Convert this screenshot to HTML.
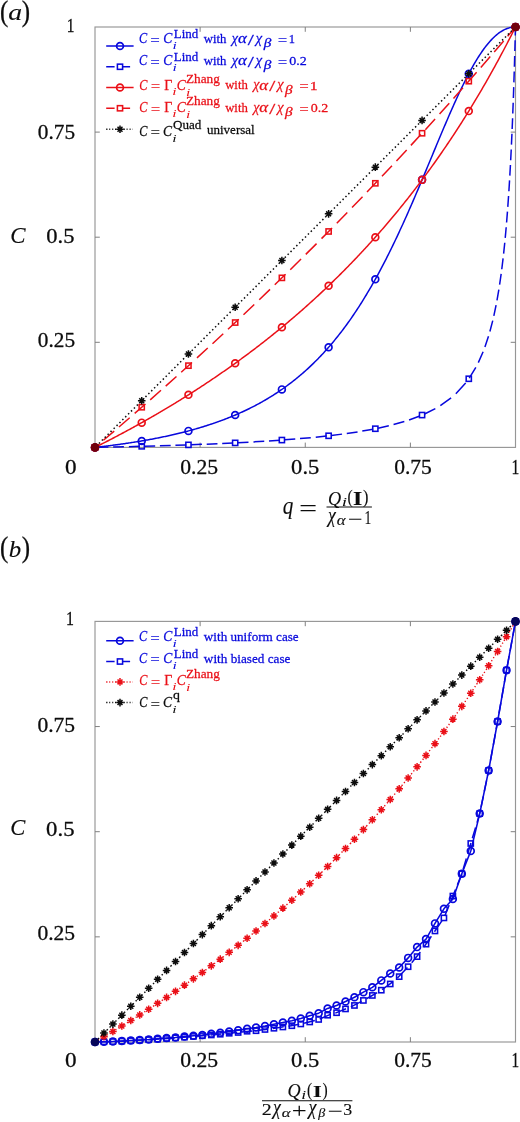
<!DOCTYPE html>
<html><head><meta charset="utf-8"><title>Figure</title>
<style>html,body{margin:0;padding:0;background:#fff}body{width:520px;height:1122px;overflow:hidden;font-family:"Liberation Serif",serif}svg{display:block}svg text{font-family:"Liberation Serif",serif;stroke-linejoin:round}</style>
</head><body>
<svg width="520" height="1122" viewBox="0 0 520 1122"><rect x="95" y="27" width="420.5" height="420.4" fill="none" stroke="#969696" stroke-width="1.15"/>
<path d="M200.12 27v4.8M200.12 447.4v-4.8M95 342.30h4.8M515.5 342.30h-4.8M305.25 27v4.8M305.25 447.4v-4.8M95 237.20h4.8M515.5 237.20h-4.8M410.38 27v4.8M410.38 447.4v-4.8M95 132.10h4.8M515.5 132.10h-4.8" stroke="#808080" stroke-width="1" fill="none"/>
<path d="M95.00 447.40L96.05 447.28L97.10 447.16L98.15 447.04L99.20 446.92L100.26 446.80L101.31 446.68L102.36 446.55L103.41 446.43L104.46 446.30L105.51 446.18L106.56 446.05L107.61 445.92L108.67 445.78L109.72 445.65L110.77 445.52L111.82 445.38L112.87 445.25L113.92 445.11L114.97 444.97L116.03 444.83L117.08 444.69L118.13 444.54L119.18 444.40L120.23 444.25L121.28 444.10L122.33 443.96L123.38 443.81L124.44 443.65L125.49 443.50L126.54 443.35L127.59 443.19L128.64 443.03L129.69 442.87L130.74 442.71L131.79 442.55L132.84 442.38L133.90 442.22L134.95 442.05L136.00 441.88L137.05 441.71L138.10 441.54L139.15 441.36L140.20 441.19L141.25 441.01L142.31 440.83L143.36 440.65L144.41 440.47L145.46 440.28L146.51 440.10L147.56 439.91L148.61 439.72L149.66 439.53L150.72 439.33L151.77 439.14L152.82 438.94L153.87 438.74L154.92 438.54L155.97 438.33L157.02 438.13L158.07 437.92L159.13 437.71L160.18 437.50L161.23 437.28L162.28 437.07L163.33 436.85L164.38 436.63L165.43 436.41L166.49 436.18L167.54 435.95L168.59 435.72L169.64 435.49L170.69 435.26L171.74 435.02L172.79 434.78L173.84 434.54L174.89 434.29L175.95 434.05L177.00 433.80L178.05 433.55L179.10 433.29L180.15 433.04L181.20 432.78L182.25 432.51L183.31 432.25L184.36 431.98L185.41 431.71L186.46 431.44L187.51 431.16L188.56 430.88L189.61 430.60L190.66 430.32L191.72 430.03L192.77 429.74L193.82 429.44L194.87 429.15L195.92 428.85L196.97 428.54L198.02 428.24L199.07 427.93L200.12 427.62L201.18 427.30L202.23 426.98L203.28 426.66L204.33 426.33L205.38 426.00L206.43 425.67L207.48 425.33L208.54 424.99L209.59 424.65L210.64 424.30L211.69 423.95L212.74 423.60L213.79 423.24L214.84 422.88L215.89 422.51L216.94 422.14L218.00 421.77L219.05 421.39L220.10 421.01L221.15 420.62L222.20 420.23L223.25 419.84L224.30 419.44L225.35 419.04L226.41 418.63L227.46 418.22L228.51 417.80L229.56 417.38L230.61 416.96L231.66 416.53L232.71 416.09L233.77 415.65L234.82 415.21L235.87 414.76L236.92 414.31L237.97 413.85L239.02 413.39L240.07 412.92L241.12 412.44L242.17 411.97L243.23 411.48L244.28 410.99L245.33 410.50L246.38 410.00L247.43 409.49L248.48 408.98L249.53 408.46L250.59 407.94L251.64 407.41L252.69 406.88L253.74 406.34L254.79 405.79L255.84 405.24L256.89 404.68L257.94 404.12L259.00 403.55L260.05 402.97L261.10 402.39L262.15 401.80L263.20 401.20L264.25 400.60L265.30 399.99L266.35 399.37L267.40 398.75L268.46 398.12L269.51 397.48L270.56 396.84L271.61 396.19L272.66 395.53L273.71 394.86L274.76 394.19L275.81 393.50L276.87 392.81L277.92 392.12L278.97 391.41L280.02 390.70L281.07 389.98L282.12 389.25L283.17 388.51L284.23 387.77L285.28 387.02L286.33 386.25L287.38 385.48L288.43 384.70L289.48 383.91L290.53 383.12L291.58 382.31L292.63 381.50L293.69 380.67L294.74 379.84L295.79 378.99L296.84 378.14L297.89 377.28L298.94 376.41L299.99 375.52L301.04 374.63L302.10 373.73L303.15 372.82L304.20 371.90L305.25 370.96L306.30 370.02L307.35 369.07L308.40 368.10L309.46 367.13L310.51 366.14L311.56 365.14L312.61 364.13L313.66 363.11L314.71 362.08L315.76 361.04L316.81 359.98L317.87 358.92L318.92 357.84L319.97 356.75L321.02 355.64L322.07 354.53L323.12 353.40L324.17 352.26L325.22 351.11L326.27 349.94L327.33 348.76L328.38 347.57L329.43 346.37L330.48 345.15L331.53 343.92L332.58 342.67L333.63 341.41L334.68 340.14L335.74 338.85L336.79 337.55L337.84 336.24L338.89 334.91L339.94 333.57L340.99 332.21L342.04 330.84L343.10 329.45L344.15 328.05L345.20 326.63L346.25 325.20L347.30 323.75L348.35 322.29L349.40 320.81L350.45 319.32L351.50 317.81L352.56 316.29L353.61 314.75L354.66 313.19L355.71 311.62L356.76 310.03L357.81 308.42L358.86 306.80L359.92 305.17L360.97 303.51L362.02 301.84L363.07 300.16L364.12 298.45L365.17 296.73L366.22 295.00L367.27 293.24L368.32 291.47L369.38 289.69L370.43 287.88L371.48 286.06L372.53 284.22L373.58 282.37L374.63 280.50L375.68 278.61L376.74 276.70L377.79 274.78L378.84 272.84L379.89 270.88L380.94 268.91L381.99 266.92L383.04 264.91L384.09 262.89L385.14 260.84L386.20 258.79L387.25 256.71L388.30 254.62L389.35 252.51L390.40 250.39L391.45 248.25L392.50 246.09L393.56 243.92L394.61 241.73L395.66 239.53L396.71 237.31L397.76 235.08L398.81 232.83L399.86 230.56L400.91 228.29L401.96 225.99L403.02 223.69L404.07 221.37L405.12 219.03L406.17 216.69L407.22 214.33L408.27 211.95L409.32 209.57L410.38 207.17L411.43 204.76L412.48 202.34L413.53 199.91L414.58 197.48L415.63 195.03L416.68 192.57L417.73 190.10L418.79 187.62L419.84 185.14L420.89 182.65L421.94 180.15L422.99 177.65L424.04 175.14L425.09 172.62L426.14 170.10L427.19 167.58L428.25 165.06L429.30 162.53L430.35 160.00L431.40 157.47L432.45 154.94L433.50 152.41L434.55 149.88L435.61 147.35L436.66 144.83L437.71 142.31L438.76 139.79L439.81 137.28L440.86 134.78L441.91 132.28L442.96 129.79L444.01 127.31L445.07 124.84L446.12 122.38L447.17 119.93L448.22 117.49L449.27 115.07L450.32 112.66L451.37 110.26L452.43 107.88L453.48 105.52L454.53 103.18L455.58 100.86L456.63 98.55L457.68 96.27L458.73 94.01L459.78 91.77L460.83 89.56L461.89 87.37L462.94 85.21L463.99 83.07L465.04 80.97L466.09 78.89L467.14 76.84L468.19 74.82L469.25 72.83L470.30 70.88L471.35 68.96L472.40 67.07L473.45 65.22L474.50 63.40L475.55 61.62L476.60 59.88L477.66 58.18L478.71 56.52L479.76 54.89L480.81 53.31L481.86 51.77L482.91 50.27L483.96 48.81L485.01 47.40L486.06 46.03L487.12 44.71L488.17 43.43L489.22 42.20L490.27 41.01L491.32 39.87L492.37 38.77L493.42 37.73L494.47 36.73L495.53 35.78L496.58 34.87L497.63 34.02L498.68 33.21L499.73 32.46L500.78 31.75L501.83 31.09L502.88 30.48L503.94 29.92L504.99 29.41L506.04 28.95L507.09 28.54L508.14 28.18L509.19 27.86L510.24 27.60L511.30 27.38L512.35 27.21L513.40 27.10L514.45 27.02L515.50 27.00" stroke="#0808dc" stroke-width="1.5" fill="none" stroke-linejoin="round" stroke-linecap="butt"/>
<circle cx="95.00" cy="447.40" r="3.4" fill="none" stroke="#0808dc" stroke-width="1.7"/>
<circle cx="141.72" cy="440.93" r="3.4" fill="none" stroke="#0808dc" stroke-width="1.7"/>
<circle cx="188.44" cy="430.91" r="3.4" fill="none" stroke="#0808dc" stroke-width="1.7"/>
<circle cx="235.17" cy="415.06" r="3.4" fill="none" stroke="#0808dc" stroke-width="1.7"/>
<circle cx="281.89" cy="389.41" r="3.4" fill="none" stroke="#0808dc" stroke-width="1.7"/>
<circle cx="328.61" cy="347.30" r="3.4" fill="none" stroke="#0808dc" stroke-width="1.7"/>
<circle cx="375.33" cy="279.24" r="3.4" fill="none" stroke="#0808dc" stroke-width="1.7"/>
<circle cx="422.06" cy="179.87" r="3.4" fill="none" stroke="#0808dc" stroke-width="1.7"/>
<circle cx="468.78" cy="73.71" r="3.4" fill="none" stroke="#0808dc" stroke-width="1.7"/>
<circle cx="515.50" cy="27.00" r="3.4" fill="none" stroke="#0808dc" stroke-width="1.7"/>
<path d="M97.63 447.35L108.40 447.12M113.13 447.01L123.91 446.76M128.90 446.64L139.68 446.36M144.41 446.24L155.18 445.93M159.91 445.79L170.69 445.46M175.42 445.31L186.20 444.94M191.19 444.76L201.96 444.35M206.70 444.16L217.47 443.71M222.20 443.50L232.98 442.99M237.71 442.75L248.48 442.18M253.48 441.90L264.25 441.25M268.98 440.95L279.76 440.21M284.49 439.87L295.26 439.02M299.99 438.62L310.77 437.65M315.76 437.16L326.54 436.02M331.27 435.48L342.04 434.13M346.77 433.49L357.55 431.89M362.28 431.11L373.06 429.16M378.05 428.16L388.82 425.74M393.56 424.56L404.33 421.50M409.06 419.97L419.84 415.99M424.57 413.96L435.34 408.56M440.34 405.59L451.11 397.83M455.84 393.67L465.67 382.92M469.25 378.10L475.85 367.35M478.31 362.60L483.12 351.73M484.92 347.03L488.49 336.32M489.89 331.54L492.74 320.61M493.83 315.92L496.08 305.19M496.99 300.37L498.84 289.60M499.61 284.70L501.16 273.86M501.77 269.28L503.08 258.40M503.62 253.57L504.76 242.72M505.22 237.92L506.19 227.28M506.59 222.48L507.45 211.63M507.80 206.84L508.56 196.03M508.88 191.25L509.55 180.42M509.83 175.63L510.43 165.05M510.67 160.26L511.23 149.43M511.45 144.64L511.94 133.79M512.15 128.99L512.60 118.20M512.78 113.44L513.19 102.68M513.38 97.93L513.73 87.14M513.89 82.38L514.24 71.59M514.40 66.83L514.70 56.06M514.84 51.05L515.14 40.28M515.27 35.52L515.50 27.00" stroke="#0808dc" stroke-width="1.5" fill="none" stroke-linejoin="round" stroke-linecap="butt"/>
<rect x="92.40" y="444.80" width="5.2" height="5.2" fill="none" stroke="#0808dc" stroke-width="1.55"/>
<rect x="139.12" y="443.71" width="5.2" height="5.2" fill="none" stroke="#0808dc" stroke-width="1.55"/>
<rect x="185.84" y="442.26" width="5.2" height="5.2" fill="none" stroke="#0808dc" stroke-width="1.55"/>
<rect x="232.57" y="440.28" width="5.2" height="5.2" fill="none" stroke="#0808dc" stroke-width="1.55"/>
<rect x="279.29" y="437.46" width="5.2" height="5.2" fill="none" stroke="#0808dc" stroke-width="1.55"/>
<rect x="326.01" y="433.19" width="5.2" height="5.2" fill="none" stroke="#0808dc" stroke-width="1.55"/>
<rect x="372.73" y="426.12" width="5.2" height="5.2" fill="none" stroke="#0808dc" stroke-width="1.55"/>
<rect x="419.46" y="412.46" width="5.2" height="5.2" fill="none" stroke="#0808dc" stroke-width="1.55"/>
<rect x="466.18" y="376.16" width="5.2" height="5.2" fill="none" stroke="#0808dc" stroke-width="1.55"/>
<rect x="512.90" y="24.40" width="5.2" height="5.2" fill="none" stroke="#0808dc" stroke-width="1.55"/>
<path d="M95.00 447.40L96.05 446.87L97.10 446.35L98.15 445.82L99.20 445.29L100.26 444.76L101.31 444.22L102.36 443.69L103.41 443.15L104.46 442.62L105.51 442.08L106.56 441.54L107.61 441.00L108.67 440.46L109.72 439.91L110.77 439.37L111.82 438.82L112.87 438.27L113.92 437.72L114.97 437.17L116.03 436.62L117.08 436.07L118.13 435.51L119.18 434.96L120.23 434.40L121.28 433.84L122.33 433.28L123.38 432.72L124.44 432.15L125.49 431.59L126.54 431.02L127.59 430.45L128.64 429.88L129.69 429.31L130.74 428.74L131.79 428.17L132.84 427.59L133.90 427.01L134.95 426.44L136.00 425.86L137.05 425.27L138.10 424.69L139.15 424.11L140.20 423.52L141.25 422.93L142.31 422.34L143.36 421.75L144.41 421.16L145.46 420.57L146.51 419.97L147.56 419.37L148.61 418.77L149.66 418.17L150.72 417.57L151.77 416.97L152.82 416.36L153.87 415.76L154.92 415.15L155.97 414.54L157.02 413.93L158.07 413.31L159.13 412.70L160.18 412.08L161.23 411.46L162.28 410.84L163.33 410.22L164.38 409.60L165.43 408.97L166.49 408.35L167.54 407.72L168.59 407.09L169.64 406.46L170.69 405.82L171.74 405.19L172.79 404.55L173.84 403.91L174.89 403.27L175.95 402.63L177.00 401.98L178.05 401.34L179.10 400.69L180.15 400.04L181.20 399.39L182.25 398.73L183.31 398.08L184.36 397.42L185.41 396.76L186.46 396.10L187.51 395.44L188.56 394.78L189.61 394.11L190.66 393.44L191.72 392.77L192.77 392.10L193.82 391.43L194.87 390.75L195.92 390.07L196.97 389.39L198.02 388.71L199.07 388.03L200.12 387.34L201.18 386.66L202.23 385.97L203.28 385.27L204.33 384.58L205.38 383.89L206.43 383.19L207.48 382.49L208.54 381.79L209.59 381.09L210.64 380.38L211.69 379.67L212.74 378.96L213.79 378.25L214.84 377.54L215.89 376.82L216.94 376.10L218.00 375.38L219.05 374.66L220.10 373.94L221.15 373.21L222.20 372.48L223.25 371.75L224.30 371.02L225.35 370.29L226.41 369.55L227.46 368.81L228.51 368.07L229.56 367.32L230.61 366.58L231.66 365.83L232.71 365.08L233.77 364.33L234.82 363.57L235.87 362.82L236.92 362.06L237.97 361.29L239.02 360.53L240.07 359.76L241.12 359.00L242.17 358.22L243.23 357.45L244.28 356.68L245.33 355.90L246.38 355.12L247.43 354.33L248.48 353.55L249.53 352.76L250.59 351.97L251.64 351.18L252.69 350.38L253.74 349.59L254.79 348.79L255.84 347.99L256.89 347.18L257.94 346.37L259.00 345.56L260.05 344.75L261.10 343.94L262.15 343.12L263.20 342.30L264.25 341.48L265.30 340.65L266.35 339.83L267.40 338.99L268.46 338.16L269.51 337.33L270.56 336.49L271.61 335.65L272.66 334.80L273.71 333.96L274.76 333.11L275.81 332.26L276.87 331.40L277.92 330.55L278.97 329.69L280.02 328.83L281.07 327.96L282.12 327.09L283.17 326.22L284.23 325.35L285.28 324.47L286.33 323.59L287.38 322.71L288.43 321.83L289.48 320.94L290.53 320.05L291.58 319.15L292.63 318.26L293.69 317.36L294.74 316.46L295.79 315.55L296.84 314.64L297.89 313.73L298.94 312.82L299.99 311.90L301.04 310.98L302.10 310.06L303.15 309.13L304.20 308.20L305.25 307.27L306.30 306.33L307.35 305.39L308.40 304.45L309.46 303.50L310.51 302.56L311.56 301.60L312.61 300.65L313.66 299.69L314.71 298.73L315.76 297.77L316.81 296.80L317.87 295.83L318.92 294.85L319.97 293.88L321.02 292.89L322.07 291.91L323.12 290.92L324.17 289.93L325.22 288.94L326.27 287.94L327.33 286.94L328.38 285.93L329.43 284.92L330.48 283.91L331.53 282.90L332.58 281.88L333.63 280.85L334.68 279.83L335.74 278.80L336.79 277.76L337.84 276.73L338.89 275.69L339.94 274.64L340.99 273.60L342.04 272.54L343.10 271.49L344.15 270.43L345.20 269.37L346.25 268.30L347.30 267.23L348.35 266.15L349.40 265.08L350.45 263.99L351.50 262.91L352.56 261.82L353.61 260.72L354.66 259.63L355.71 258.52L356.76 257.42L357.81 256.31L358.86 255.20L359.92 254.08L360.97 252.96L362.02 251.83L363.07 250.70L364.12 249.56L365.17 248.43L366.22 247.28L367.27 246.14L368.32 244.99L369.38 243.83L370.43 242.67L371.48 241.51L372.53 240.34L373.58 239.16L374.63 237.99L375.68 236.81L376.74 235.62L377.79 234.43L378.84 233.23L379.89 232.03L380.94 230.83L381.99 229.62L383.04 228.41L384.09 227.19L385.14 225.97L386.20 224.74L387.25 223.51L388.30 222.27L389.35 221.03L390.40 219.78L391.45 218.53L392.50 217.28L393.56 216.02L394.61 214.75L395.66 213.48L396.71 212.21L397.76 210.92L398.81 209.64L399.86 208.35L400.91 207.05L401.96 205.75L403.02 204.45L404.07 203.14L405.12 201.82L406.17 200.50L407.22 199.17L408.27 197.84L409.32 196.50L410.38 195.16L411.43 193.81L412.48 192.46L413.53 191.10L414.58 189.74L415.63 188.37L416.68 186.99L417.73 185.61L418.79 184.22L419.84 182.83L420.89 181.43L421.94 180.03L422.99 178.62L424.04 177.20L425.09 175.78L426.14 174.36L427.19 172.92L428.25 171.49L429.30 170.04L430.35 168.59L431.40 167.13L432.45 165.67L433.50 164.20L434.55 162.73L435.61 161.25L436.66 159.76L437.71 158.26L438.76 156.76L439.81 155.26L440.86 153.74L441.91 152.23L442.96 150.70L444.01 149.17L445.07 147.63L446.12 146.08L447.17 144.53L448.22 142.97L449.27 141.41L450.32 139.83L451.37 138.26L452.43 136.67L453.48 135.08L454.53 133.48L455.58 131.87L456.63 130.26L457.68 128.64L458.73 127.01L459.78 125.37L460.83 123.73L461.89 122.08L462.94 120.42L463.99 118.76L465.04 117.09L466.09 115.41L467.14 113.72L468.19 112.02L469.25 110.32L470.30 108.61L471.35 106.90L472.40 105.17L473.45 103.44L474.50 101.70L475.55 99.95L476.60 98.19L477.66 96.42L478.71 94.65L479.76 92.87L480.81 91.08L481.86 89.28L482.91 87.48L483.96 85.66L485.01 83.84L486.06 82.01L487.12 80.17L488.17 78.32L489.22 76.46L490.27 74.59L491.32 72.72L492.37 70.83L493.42 68.94L494.47 67.04L495.53 65.13L496.58 63.21L497.63 61.28L498.68 59.34L499.73 57.39L500.78 55.43L501.83 53.47L502.88 51.49L503.94 49.50L504.99 47.51L506.04 45.50L507.09 43.49L508.14 41.46L509.19 39.43L510.24 37.38L511.30 35.32L512.35 33.26L513.40 31.18L514.45 29.10L515.50 27.00" stroke="#ea1018" stroke-width="1.5" fill="none" stroke-linejoin="round" stroke-linecap="butt"/>
<circle cx="95.00" cy="447.40" r="3.4" fill="none" stroke="#ea1018" stroke-width="1.7"/>
<circle cx="141.72" cy="422.67" r="3.4" fill="none" stroke="#ea1018" stroke-width="1.7"/>
<circle cx="188.44" cy="394.85" r="3.4" fill="none" stroke="#ea1018" stroke-width="1.7"/>
<circle cx="235.17" cy="363.32" r="3.4" fill="none" stroke="#ea1018" stroke-width="1.7"/>
<circle cx="281.89" cy="327.29" r="3.4" fill="none" stroke="#ea1018" stroke-width="1.7"/>
<circle cx="328.61" cy="285.71" r="3.4" fill="none" stroke="#ea1018" stroke-width="1.7"/>
<circle cx="375.33" cy="237.20" r="3.4" fill="none" stroke="#ea1018" stroke-width="1.7"/>
<circle cx="422.06" cy="179.87" r="3.4" fill="none" stroke="#ea1018" stroke-width="1.7"/>
<circle cx="468.78" cy="111.08" r="3.4" fill="none" stroke="#ea1018" stroke-width="1.7"/>
<circle cx="515.50" cy="27.00" r="3.4" fill="none" stroke="#ea1018" stroke-width="1.7"/>
<path d="M95.00 447.40L98.68 444.29M103.41 440.27L114.19 431.08M118.92 427.02L129.69 417.72M134.68 413.38L145.46 403.97M150.19 399.82L160.97 390.29M165.70 386.09L176.47 376.45M181.20 372.20L191.98 362.45M196.97 357.90L207.75 348.04M212.48 343.68L223.25 333.69M227.98 329.28L238.76 319.18M243.49 314.71L254.26 304.48M259.26 299.71L270.03 289.35M274.76 284.78L285.54 274.29M290.27 269.66L301.04 259.05M305.78 254.36L316.55 243.61M321.54 238.60L332.06 227.98M336.79 223.17L347.30 212.42M352.03 207.56L362.54 196.67M367.01 192.02L377.26 181.28M381.99 176.29L391.98 165.69M396.45 160.92L406.70 149.92M410.90 145.37L420.89 134.52M425.36 129.64L435.08 118.94M439.55 114.00L449.27 103.17M453.48 98.46L462.94 87.81M467.14 83.04L476.60 72.26M480.81 67.44L490.27 56.53M494.21 51.96L503.67 40.92M507.62 36.30L515.50 27.00" stroke="#ea1018" stroke-width="1.5" fill="none" stroke-linejoin="round" stroke-linecap="butt"/>
<rect x="92.40" y="444.80" width="5.2" height="5.2" fill="none" stroke="#ea1018" stroke-width="1.55"/>
<rect x="139.12" y="404.64" width="5.2" height="5.2" fill="none" stroke="#ea1018" stroke-width="1.55"/>
<rect x="185.84" y="363.06" width="5.2" height="5.2" fill="none" stroke="#ea1018" stroke-width="1.55"/>
<rect x="232.57" y="319.95" width="5.2" height="5.2" fill="none" stroke="#ea1018" stroke-width="1.55"/>
<rect x="279.29" y="275.26" width="5.2" height="5.2" fill="none" stroke="#ea1018" stroke-width="1.55"/>
<rect x="326.01" y="228.87" width="5.2" height="5.2" fill="none" stroke="#ea1018" stroke-width="1.55"/>
<rect x="372.73" y="180.70" width="5.2" height="5.2" fill="none" stroke="#ea1018" stroke-width="1.55"/>
<rect x="419.46" y="130.64" width="5.2" height="5.2" fill="none" stroke="#ea1018" stroke-width="1.55"/>
<rect x="466.18" y="78.58" width="5.2" height="5.2" fill="none" stroke="#ea1018" stroke-width="1.55"/>
<rect x="512.90" y="24.40" width="5.2" height="5.2" fill="none" stroke="#ea1018" stroke-width="1.55"/>
<path d="M96.05 446.35L97.10 445.30M98.94 443.46L99.99 442.41M101.83 440.57L102.88 439.52M104.72 437.68L105.78 436.63M107.61 434.79L108.67 433.74M110.51 431.90L111.56 430.85M113.66 428.74L114.71 427.69M116.55 425.85L117.60 424.80M119.44 422.96L120.49 421.91M122.33 420.07L123.38 419.02M125.22 417.18L126.27 416.13M128.11 414.29L129.17 413.24M131.01 411.40L132.06 410.35M133.90 408.51L134.95 407.46M136.79 405.62L137.84 404.57M139.68 402.73L140.73 401.68M142.57 399.84L143.62 398.79M145.46 396.95L146.51 395.90M148.35 394.06L149.40 393.01M151.24 391.17L152.29 390.12M154.13 388.28L155.18 387.23M157.02 385.39L158.07 384.34M159.91 382.50L160.97 381.45M162.81 379.61L163.86 378.56M165.70 376.72L166.75 375.67M168.59 373.83L169.64 372.78M171.48 370.94L172.53 369.89M174.37 368.05L175.42 367.00M177.26 365.16L178.31 364.11M180.15 362.27L181.20 361.22M183.04 359.38L184.09 358.33M185.93 356.49L186.98 355.44M188.82 353.60L189.88 352.55M191.72 350.71L192.77 349.66M194.61 347.82L195.66 346.77M197.76 344.66L198.81 343.61M200.65 341.77L201.70 340.72M203.54 338.88L204.59 337.83M206.43 335.99L207.48 334.94M209.32 333.10L210.37 332.05M212.21 330.21L213.27 329.16M215.11 327.32L216.16 326.27M218.00 324.43L219.05 323.38M220.89 321.54L221.94 320.49M223.78 318.65L224.83 317.60M226.67 315.76L227.72 314.71M229.56 312.87L230.61 311.82M232.45 309.98L233.50 308.93M235.34 307.09L236.39 306.04M238.23 304.20L239.28 303.15M241.12 301.31L242.17 300.26M244.01 298.42L245.07 297.37M246.91 295.53L247.96 294.48M249.80 292.64L250.85 291.59M252.69 289.75L253.74 288.70M255.58 286.86L256.63 285.81M258.47 283.97L259.52 282.92M261.36 281.08L262.41 280.03M264.25 278.19L265.30 277.14M267.14 275.30L268.19 274.25M270.03 272.41L271.08 271.36M272.92 269.52L273.98 268.47M275.81 266.63L276.87 265.58M278.71 263.74L279.76 262.69M281.86 260.58L282.91 259.53M284.75 257.69L285.80 256.64M287.64 254.80L288.69 253.75M290.53 251.91L291.58 250.86M293.42 249.02L294.47 247.97M296.31 246.13L297.37 245.08M299.21 243.24L300.26 242.19M302.10 240.35L303.15 239.30M304.99 237.46L306.04 236.41M307.88 234.57L308.93 233.52M310.77 231.68L311.82 230.63M313.66 228.79L314.71 227.74M316.55 225.90L317.60 224.85M319.44 223.01L320.49 221.96M322.33 220.12L323.38 219.07M325.22 217.23L326.27 216.18M328.11 214.34L329.17 213.29M331.01 211.45L332.06 210.40M333.90 208.56L334.95 207.51M336.79 205.67L337.84 204.62M339.68 202.78L340.73 201.73M342.57 199.89L343.62 198.84M345.46 197.00L346.51 195.95M348.35 194.11L349.40 193.06M351.24 191.22L352.29 190.17M354.13 188.33L355.18 187.28M357.02 185.44L358.08 184.39M359.92 182.55L360.97 181.50M362.81 179.66L363.86 178.61M365.96 176.50L367.01 175.45M368.85 173.61L369.90 172.56M371.74 170.72L372.79 169.67M374.63 167.83L375.68 166.78M377.52 164.94L378.57 163.89M380.41 162.05L381.47 161.00M383.31 159.16L384.36 158.11M386.20 156.27L387.25 155.22M389.09 153.38L390.14 152.33M391.98 150.49L393.03 149.44M394.87 147.60L395.92 146.55M397.76 144.71L398.81 143.66M400.65 141.82L401.70 140.77M403.54 138.93L404.59 137.88M406.43 136.04L407.48 134.99M409.32 133.15L410.38 132.10M412.21 130.26L413.27 129.21M415.11 127.37L416.16 126.32M418.00 124.48L419.05 123.43M420.89 121.59L421.94 120.54M423.78 118.70L424.83 117.65M426.67 115.81L427.72 114.76M429.56 112.92L430.61 111.87M432.45 110.03L433.50 108.98M435.34 107.14L436.39 106.09M438.23 104.25L439.28 103.20M441.12 101.36L442.18 100.31M444.01 98.47L445.07 97.42M446.91 95.58L447.96 94.53M450.06 92.42L451.11 91.37M452.95 89.53L454.00 88.48M455.84 86.64L456.89 85.59M458.73 83.75L459.78 82.70M461.62 80.86L462.67 79.81M464.51 77.97L465.57 76.92M467.41 75.08L468.46 74.03M470.30 72.19L471.35 71.14M473.19 69.30L474.24 68.25M476.08 66.41L477.13 65.36M478.97 63.52L480.02 62.47M481.86 60.63L482.91 59.58M484.75 57.74L485.80 56.69M487.64 54.85L488.69 53.80M490.53 51.96L491.58 50.91M493.42 49.07L494.47 48.02M496.31 46.18L497.37 45.13M499.21 43.29L500.26 42.24M502.10 40.40L503.15 39.35M504.99 37.51L506.04 36.46M507.88 34.62L508.93 33.57M510.77 31.73L511.82 30.68M513.66 28.84L514.71 27.79" stroke="#0c0c0c" stroke-width="1.5" fill="none" stroke-linejoin="round" stroke-linecap="butt"/>
<path d="M91.20 447.40L98.80 447.40M92.53 444.93L97.47 449.87M95.00 443.60L95.00 451.20M97.47 444.93L92.53 449.87" stroke="#0c0c0c" stroke-width="1.5" fill="none"/>
<path d="M137.92 400.69L145.52 400.69M139.25 398.22L144.19 403.16M141.72 396.89L141.72 404.49M144.19 398.22L139.25 403.16" stroke="#0c0c0c" stroke-width="1.5" fill="none"/>
<path d="M184.64 353.98L192.24 353.98M185.97 351.51L190.92 356.45M188.44 350.18L188.44 357.78M190.92 351.51L185.97 356.45" stroke="#0c0c0c" stroke-width="1.5" fill="none"/>
<path d="M231.37 307.27L238.97 307.27M232.69 304.79L237.64 309.74M235.17 303.47L235.17 311.07M237.64 304.79L232.69 309.74" stroke="#0c0c0c" stroke-width="1.5" fill="none"/>
<path d="M278.09 260.56L285.69 260.56M279.42 258.08L284.36 263.03M281.89 256.76L281.89 264.36M284.36 258.08L279.42 263.03" stroke="#0c0c0c" stroke-width="1.5" fill="none"/>
<path d="M324.81 213.84L332.41 213.84M326.14 211.37L331.08 216.32M328.61 210.04L328.61 217.64M331.08 211.37L326.14 216.32" stroke="#0c0c0c" stroke-width="1.5" fill="none"/>
<path d="M371.53 167.13L379.13 167.13M372.86 164.66L377.81 169.61M375.33 163.33L375.33 170.93M377.81 164.66L372.86 169.61" stroke="#0c0c0c" stroke-width="1.5" fill="none"/>
<path d="M418.26 120.42L425.86 120.42M419.58 117.95L424.53 122.89M422.06 116.62L422.06 124.22M424.53 117.95L419.58 122.89" stroke="#0c0c0c" stroke-width="1.5" fill="none"/>
<path d="M464.98 73.71L472.58 73.71M466.31 71.24L471.25 76.18M468.78 69.91L468.78 77.51M471.25 71.24L466.31 76.18" stroke="#0c0c0c" stroke-width="1.5" fill="none"/>
<path d="M511.70 27.00L519.30 27.00M513.03 24.53L517.97 29.47M515.50 23.20L515.50 30.80M517.97 24.53L513.03 29.47" stroke="#0c0c0c" stroke-width="1.5" fill="none"/>
<circle cx="95.00" cy="447.40" r="4.3" fill="#70000c"/>
<circle cx="515.50" cy="27.00" r="4.3" fill="#70000c"/>
<text x="66.65" y="31.80" style="font-size:19.54px;fill:#0c0c0c;stroke:#0c0c0c;stroke-width:0.3px;" textLength="7.67" lengthAdjust="spacingAndGlyphs">1</text>
<text x="37.89" y="139.31" style="font-size:20.76px;fill:#0c0c0c;stroke:#0c0c0c;stroke-width:0.3px;" textLength="37.24" lengthAdjust="spacingAndGlyphs">0.75</text>
<text x="46.34" y="242.71" style="font-size:20.76px;fill:#0c0c0c;stroke:#0c0c0c;stroke-width:0.3px;" textLength="28.14" lengthAdjust="spacingAndGlyphs">0.5</text>
<text x="37.89" y="346.50" style="font-size:21.05px;fill:#0c0c0c;stroke:#0c0c0c;stroke-width:0.3px;" textLength="37.24" lengthAdjust="spacingAndGlyphs">0.25</text>
<text x="64.92" y="473.80" style="font-size:20.45px;fill:#0c0c0c;stroke:#0c0c0c;stroke-width:0.3px;" textLength="11.56" lengthAdjust="spacingAndGlyphs">0</text>
<text x="180.18" y="473.71" style="font-size:20.32px;fill:#0c0c0c;stroke:#0c0c0c;stroke-width:0.3px;" textLength="37.87" lengthAdjust="spacingAndGlyphs">0.25</text>
<text x="291.14" y="473.71" style="font-size:20.32px;fill:#0c0c0c;stroke:#0c0c0c;stroke-width:0.3px;" textLength="28.14" lengthAdjust="spacingAndGlyphs">0.5</text>
<text x="394.18" y="473.71" style="font-size:20.32px;fill:#0c0c0c;stroke:#0c0c0c;stroke-width:0.3px;" textLength="37.66" lengthAdjust="spacingAndGlyphs">0.75</text>
<text x="511.53" y="473.90" style="font-size:20.75px;fill:#0c0c0c;stroke:#0c0c0c;stroke-width:0.3px;" textLength="7.81" lengthAdjust="spacingAndGlyphs">1</text>
<text x="10.13" y="242.78" style="font-size:23.38px;fill:#0c0c0c;stroke:#0c0c0c;stroke-width:0.15px;font-style:italic;" textLength="15.26" lengthAdjust="spacingAndGlyphs">C</text>
<text x="282.70" y="514.43" style="font-size:24.27px;fill:#0c0c0c;stroke:#0c0c0c;stroke-width:0.12px;font-style:italic;" textLength="10.60" lengthAdjust="spacingAndGlyphs">q</text>
<text x="298.99" y="516.60" style="font-size:26.00px;fill:#0c0c0c;stroke:#0c0c0c;stroke-width:0px;" textLength="18.18" lengthAdjust="spacingAndGlyphs">=</text>
<path d="M326.5 506.9H371.9" stroke="#0c0c0c" stroke-width="1.05"/>
<text x="328.00" y="504.60" style="font-size:18.00px;fill:#0c0c0c;stroke:#0c0c0c;stroke-width:0.12px;font-style:italic;" textLength="13.14" lengthAdjust="spacingAndGlyphs">Q</text>
<text x="341.83" y="505.80" style="font-size:11.78px;fill:#0c0c0c;stroke:#0c0c0c;stroke-width:0px;font-style:italic;" textLength="5.36" lengthAdjust="spacingAndGlyphs">i</text>
<text x="347.42" y="503.35" style="font-size:18.09px;fill:#0c0c0c;stroke:#0c0c0c;stroke-width:0.12px;" textLength="5.19" lengthAdjust="spacingAndGlyphs">(</text>
<text x="353.09" y="504.60" style="font-size:17.87px;fill:#0c0c0c;stroke:#0c0c0c;stroke-width:0.12px;font-weight:bold;" textLength="9.31" lengthAdjust="spacingAndGlyphs">I</text>
<text x="363.07" y="503.35" style="font-size:18.09px;fill:#0c0c0c;stroke:#0c0c0c;stroke-width:0.12px;" textLength="5.45" lengthAdjust="spacingAndGlyphs">)</text>
<text x="328.02" y="521.99" style="font-size:20.24px;fill:#0c0c0c;stroke:#0c0c0c;stroke-width:0.12px;font-style:italic;" textLength="7.81" lengthAdjust="spacingAndGlyphs">χ</text>
<text x="336.70" y="525.06" style="font-size:13.69px;fill:#0c0c0c;stroke:#0c0c0c;stroke-width:0.12px;font-style:italic;" textLength="8.82" lengthAdjust="spacingAndGlyphs">α</text>
<text x="347.88" y="526.00" style="font-size:21.00px;fill:#0c0c0c;stroke:#0c0c0c;stroke-width:0px;" textLength="14.91" lengthAdjust="spacingAndGlyphs">−</text>
<text x="364.60" y="524.20" style="font-size:19.39px;fill:#0c0c0c;stroke:#0c0c0c;stroke-width:0.12px;" textLength="6.82" lengthAdjust="spacingAndGlyphs">1</text>
<path d="M106.20 46.00L133.60 46.00" stroke="#0808dc" stroke-width="1.5" fill="none" stroke-linejoin="round" stroke-linecap="butt"/>
<circle cx="120.00" cy="46.00" r="3.4" fill="none" stroke="#0808dc" stroke-width="1.7"/>
<text x="138.92" y="43.00" style="font-size:14.00px;fill:#0808dc;stroke:#0808dc;stroke-width:0.26px;font-style:italic;" textLength="8.17" lengthAdjust="spacingAndGlyphs">C</text>
<text x="150.15" y="44.50" style="font-size:14.00px;fill:#0808dc;stroke:#0808dc;stroke-width:0.1px;" textLength="9.57" lengthAdjust="spacingAndGlyphs">=</text>
<text x="163.25" y="43.00" style="font-size:14.00px;fill:#0808dc;stroke:#0808dc;stroke-width:0.26px;font-style:italic;" textLength="9.03" lengthAdjust="spacingAndGlyphs">C</text>
<text x="172.53" y="49.00" style="font-size:10.50px;fill:#0808dc;stroke:#0808dc;stroke-width:0px;font-style:italic;" textLength="4.34" lengthAdjust="spacingAndGlyphs">i</text>
<text x="173.83" y="38.00" style="font-size:13.00px;fill:#0808dc;stroke:#0808dc;stroke-width:0.26px;" textLength="24.53" lengthAdjust="spacingAndGlyphs">Lind</text>
<text x="203.79" y="42.60" style="font-size:13.00px;fill:#0808dc;stroke:#0808dc;stroke-width:0.26px;" textLength="22.58" lengthAdjust="spacingAndGlyphs">with</text>
<text x="231.73" y="42.70" style="font-size:15.50px;fill:#0808dc;stroke:#0808dc;stroke-width:0.26px;font-style:italic;" textLength="6.19" lengthAdjust="spacingAndGlyphs">χ</text>
<text x="237.90" y="43.00" style="font-size:14.50px;fill:#0808dc;stroke:#0808dc;stroke-width:0.26px;font-style:italic;" textLength="8.82" lengthAdjust="spacingAndGlyphs">α</text>
<text x="247.80" y="44.60" style="font-size:14.00px;fill:#0808dc;stroke:#0808dc;stroke-width:0.26px;" textLength="6.00" lengthAdjust="spacingAndGlyphs">/</text>
<text x="255.76" y="42.70" style="font-size:15.50px;fill:#0808dc;stroke:#0808dc;stroke-width:0.26px;font-style:italic;" textLength="6.35" lengthAdjust="spacingAndGlyphs">χ</text>
<text x="263.65" y="47.00" style="font-size:11.80px;fill:#0808dc;stroke:#0808dc;stroke-width:0.26px;font-style:italic;" textLength="7.58" lengthAdjust="spacingAndGlyphs">β</text>
<text x="277.75" y="44.50" style="font-size:14.00px;fill:#0808dc;stroke:#0808dc;stroke-width:0.1px;" textLength="9.57" lengthAdjust="spacingAndGlyphs">=</text>
<text x="288.70" y="43.00" style="font-size:12.60px;fill:#0808dc;stroke:#0808dc;stroke-width:0.26px;" textLength="6.25" lengthAdjust="spacingAndGlyphs">1</text>
<path d="M106.20 66.75L114.60 66.75" stroke="#0808dc" stroke-width="1.5" fill="none" stroke-linejoin="round" stroke-linecap="butt"/>
<path d="M122.60 66.75L130.10 66.75" stroke="#0808dc" stroke-width="1.5" fill="none" stroke-linejoin="round" stroke-linecap="butt"/>
<rect x="117.40" y="64.15" width="5.2" height="5.2" fill="none" stroke="#0808dc" stroke-width="1.55"/>
<text x="138.92" y="65.30" style="font-size:14.00px;fill:#0808dc;stroke:#0808dc;stroke-width:0.26px;font-style:italic;" textLength="8.17" lengthAdjust="spacingAndGlyphs">C</text>
<text x="150.15" y="66.80" style="font-size:14.00px;fill:#0808dc;stroke:#0808dc;stroke-width:0.1px;" textLength="9.57" lengthAdjust="spacingAndGlyphs">=</text>
<text x="163.25" y="65.30" style="font-size:14.00px;fill:#0808dc;stroke:#0808dc;stroke-width:0.26px;font-style:italic;" textLength="9.03" lengthAdjust="spacingAndGlyphs">C</text>
<text x="172.53" y="71.30" style="font-size:10.50px;fill:#0808dc;stroke:#0808dc;stroke-width:0px;font-style:italic;" textLength="4.34" lengthAdjust="spacingAndGlyphs">i</text>
<text x="173.83" y="61.00" style="font-size:13.00px;fill:#0808dc;stroke:#0808dc;stroke-width:0.26px;" textLength="24.53" lengthAdjust="spacingAndGlyphs">Lind</text>
<text x="203.79" y="64.90" style="font-size:13.00px;fill:#0808dc;stroke:#0808dc;stroke-width:0.26px;" textLength="22.58" lengthAdjust="spacingAndGlyphs">with</text>
<text x="231.73" y="65.00" style="font-size:15.50px;fill:#0808dc;stroke:#0808dc;stroke-width:0.26px;font-style:italic;" textLength="6.19" lengthAdjust="spacingAndGlyphs">χ</text>
<text x="237.90" y="65.30" style="font-size:14.50px;fill:#0808dc;stroke:#0808dc;stroke-width:0.26px;font-style:italic;" textLength="8.82" lengthAdjust="spacingAndGlyphs">α</text>
<text x="247.80" y="66.90" style="font-size:14.00px;fill:#0808dc;stroke:#0808dc;stroke-width:0.26px;" textLength="6.00" lengthAdjust="spacingAndGlyphs">/</text>
<text x="255.76" y="65.00" style="font-size:15.50px;fill:#0808dc;stroke:#0808dc;stroke-width:0.26px;font-style:italic;" textLength="6.35" lengthAdjust="spacingAndGlyphs">χ</text>
<text x="263.65" y="69.30" style="font-size:11.80px;fill:#0808dc;stroke:#0808dc;stroke-width:0.26px;font-style:italic;" textLength="7.58" lengthAdjust="spacingAndGlyphs">β</text>
<text x="277.75" y="66.80" style="font-size:14.00px;fill:#0808dc;stroke:#0808dc;stroke-width:0.1px;" textLength="9.57" lengthAdjust="spacingAndGlyphs">=</text>
<text x="289.27" y="65.30" style="font-size:12.60px;fill:#0808dc;stroke:#0808dc;stroke-width:0.26px;" textLength="17.51" lengthAdjust="spacingAndGlyphs">0.2</text>
<path d="M106.20 87.50L133.60 87.50" stroke="#ea1018" stroke-width="1.5" fill="none" stroke-linejoin="round" stroke-linecap="butt"/>
<circle cx="120.00" cy="87.50" r="3.4" fill="none" stroke="#ea1018" stroke-width="1.7"/>
<text x="139.32" y="89.50" style="font-size:14.00px;fill:#ea1018;stroke:#ea1018;stroke-width:0.26px;font-style:italic;" textLength="8.17" lengthAdjust="spacingAndGlyphs">C</text>
<text x="150.65" y="91.00" style="font-size:14.00px;fill:#ea1018;stroke:#ea1018;stroke-width:0.1px;" textLength="9.57" lengthAdjust="spacingAndGlyphs">=</text>
<text x="164.20" y="89.50" style="font-size:14.00px;fill:#ea1018;stroke:#ea1018;stroke-width:0.26px;" textLength="8.05" lengthAdjust="spacingAndGlyphs">Γ</text>
<text x="172.33" y="94.70" style="font-size:10.50px;fill:#ea1018;stroke:#ea1018;stroke-width:0px;font-style:italic;" textLength="4.34" lengthAdjust="spacingAndGlyphs">i</text>
<text x="176.75" y="89.50" style="font-size:14.00px;fill:#ea1018;stroke:#ea1018;stroke-width:0.26px;font-style:italic;" textLength="9.03" lengthAdjust="spacingAndGlyphs">C</text>
<text x="186.03" y="95.50" style="font-size:10.50px;fill:#ea1018;stroke:#ea1018;stroke-width:0px;font-style:italic;" textLength="4.34" lengthAdjust="spacingAndGlyphs">i</text>
<text x="185.97" y="82.50" style="font-size:13.00px;fill:#ea1018;stroke:#ea1018;stroke-width:0.26px;" textLength="33.89" lengthAdjust="spacingAndGlyphs">Zhang</text>
<text x="225.19" y="89.10" style="font-size:13.00px;fill:#ea1018;stroke:#ea1018;stroke-width:0.26px;" textLength="22.58" lengthAdjust="spacingAndGlyphs">with</text>
<text x="253.13" y="89.20" style="font-size:15.50px;fill:#ea1018;stroke:#ea1018;stroke-width:0.26px;font-style:italic;" textLength="6.19" lengthAdjust="spacingAndGlyphs">χ</text>
<text x="259.30" y="89.50" style="font-size:14.50px;fill:#ea1018;stroke:#ea1018;stroke-width:0.26px;font-style:italic;" textLength="8.82" lengthAdjust="spacingAndGlyphs">α</text>
<text x="269.20" y="91.10" style="font-size:14.00px;fill:#ea1018;stroke:#ea1018;stroke-width:0.26px;" textLength="6.00" lengthAdjust="spacingAndGlyphs">/</text>
<text x="277.16" y="89.20" style="font-size:15.50px;fill:#ea1018;stroke:#ea1018;stroke-width:0.26px;font-style:italic;" textLength="6.35" lengthAdjust="spacingAndGlyphs">χ</text>
<text x="285.05" y="93.50" style="font-size:11.80px;fill:#ea1018;stroke:#ea1018;stroke-width:0.26px;font-style:italic;" textLength="7.58" lengthAdjust="spacingAndGlyphs">β</text>
<text x="299.15" y="91.00" style="font-size:14.00px;fill:#ea1018;stroke:#ea1018;stroke-width:0.1px;" textLength="9.57" lengthAdjust="spacingAndGlyphs">=</text>
<text x="309.80" y="89.50" style="font-size:12.60px;fill:#ea1018;stroke:#ea1018;stroke-width:0.26px;" textLength="7.95" lengthAdjust="spacingAndGlyphs">1</text>
<path d="M106.20 108.25L114.60 108.25" stroke="#ea1018" stroke-width="1.5" fill="none" stroke-linejoin="round" stroke-linecap="butt"/>
<path d="M122.60 108.25L130.10 108.25" stroke="#ea1018" stroke-width="1.5" fill="none" stroke-linejoin="round" stroke-linecap="butt"/>
<rect x="117.40" y="105.65" width="5.2" height="5.2" fill="none" stroke="#ea1018" stroke-width="1.55"/>
<text x="139.32" y="112.00" style="font-size:14.00px;fill:#ea1018;stroke:#ea1018;stroke-width:0.26px;font-style:italic;" textLength="8.17" lengthAdjust="spacingAndGlyphs">C</text>
<text x="150.65" y="113.50" style="font-size:14.00px;fill:#ea1018;stroke:#ea1018;stroke-width:0.1px;" textLength="9.57" lengthAdjust="spacingAndGlyphs">=</text>
<text x="164.20" y="112.00" style="font-size:14.00px;fill:#ea1018;stroke:#ea1018;stroke-width:0.26px;" textLength="8.05" lengthAdjust="spacingAndGlyphs">Γ</text>
<text x="172.33" y="117.20" style="font-size:10.50px;fill:#ea1018;stroke:#ea1018;stroke-width:0px;font-style:italic;" textLength="4.34" lengthAdjust="spacingAndGlyphs">i</text>
<text x="176.75" y="112.00" style="font-size:14.00px;fill:#ea1018;stroke:#ea1018;stroke-width:0.26px;font-style:italic;" textLength="9.03" lengthAdjust="spacingAndGlyphs">C</text>
<text x="186.03" y="118.00" style="font-size:10.50px;fill:#ea1018;stroke:#ea1018;stroke-width:0px;font-style:italic;" textLength="4.34" lengthAdjust="spacingAndGlyphs">i</text>
<text x="185.97" y="105.00" style="font-size:13.00px;fill:#ea1018;stroke:#ea1018;stroke-width:0.26px;" textLength="33.89" lengthAdjust="spacingAndGlyphs">Zhang</text>
<text x="225.19" y="111.60" style="font-size:13.00px;fill:#ea1018;stroke:#ea1018;stroke-width:0.26px;" textLength="22.58" lengthAdjust="spacingAndGlyphs">with</text>
<text x="253.13" y="111.70" style="font-size:15.50px;fill:#ea1018;stroke:#ea1018;stroke-width:0.26px;font-style:italic;" textLength="6.19" lengthAdjust="spacingAndGlyphs">χ</text>
<text x="259.30" y="112.00" style="font-size:14.50px;fill:#ea1018;stroke:#ea1018;stroke-width:0.26px;font-style:italic;" textLength="8.82" lengthAdjust="spacingAndGlyphs">α</text>
<text x="269.20" y="113.60" style="font-size:14.00px;fill:#ea1018;stroke:#ea1018;stroke-width:0.26px;" textLength="6.00" lengthAdjust="spacingAndGlyphs">/</text>
<text x="277.16" y="111.70" style="font-size:15.50px;fill:#ea1018;stroke:#ea1018;stroke-width:0.26px;font-style:italic;" textLength="6.35" lengthAdjust="spacingAndGlyphs">χ</text>
<text x="285.05" y="116.00" style="font-size:11.80px;fill:#ea1018;stroke:#ea1018;stroke-width:0.26px;font-style:italic;" textLength="7.58" lengthAdjust="spacingAndGlyphs">β</text>
<text x="299.15" y="113.50" style="font-size:14.00px;fill:#ea1018;stroke:#ea1018;stroke-width:0.1px;" textLength="9.57" lengthAdjust="spacingAndGlyphs">=</text>
<text x="310.67" y="112.00" style="font-size:12.60px;fill:#ea1018;stroke:#ea1018;stroke-width:0.26px;" textLength="17.51" lengthAdjust="spacingAndGlyphs">0.2</text>
<path d="M106.20 129.25L107.46 129.25M109.22 129.25L110.22 129.25M112.23 129.25L113.24 129.25M115.00 129.25L116.01 129.25M118.02 129.25L119.02 129.25M120.78 129.25L121.79 129.25M123.80 129.25L124.81 129.25M126.57 129.25L127.57 129.25M129.58 129.25L130.59 129.25M132.35 129.25L132.60 129.25" stroke="#0c0c0c" stroke-width="1.5" fill="none" stroke-linejoin="round" stroke-linecap="butt"/>
<path d="M116.20 129.25L123.80 129.25M117.53 126.78L122.47 131.72M120.00 125.45L120.00 133.05M122.47 126.78L117.53 131.72" stroke="#0c0c0c" stroke-width="1.5" fill="none"/>
<text x="139.32" y="135.50" style="font-size:14.00px;fill:#0c0c0c;stroke:#0c0c0c;stroke-width:0.26px;font-style:italic;" textLength="8.17" lengthAdjust="spacingAndGlyphs">C</text>
<text x="150.45" y="137.00" style="font-size:14.00px;fill:#0c0c0c;stroke:#0c0c0c;stroke-width:0.1px;" textLength="9.57" lengthAdjust="spacingAndGlyphs">=</text>
<text x="163.05" y="135.50" style="font-size:14.00px;fill:#0c0c0c;stroke:#0c0c0c;stroke-width:0.26px;font-style:italic;" textLength="9.03" lengthAdjust="spacingAndGlyphs">C</text>
<text x="172.33" y="141.50" style="font-size:10.50px;fill:#0c0c0c;stroke:#0c0c0c;stroke-width:0px;font-style:italic;" textLength="4.34" lengthAdjust="spacingAndGlyphs">i</text>
<text x="172.96" y="128.80" style="font-size:13.00px;fill:#0c0c0c;stroke:#0c0c0c;stroke-width:0.26px;" textLength="28.40" lengthAdjust="spacingAndGlyphs">Quad</text>
<text x="207.03" y="134.20" style="font-size:13.00px;fill:#0c0c0c;stroke:#0c0c0c;stroke-width:0.26px;" textLength="47.63" lengthAdjust="spacingAndGlyphs">universal</text>
<text x="0.10" y="21.20" style="font-size:29.12px;fill:#0c0c0c;stroke:#0c0c0c;stroke-width:0.3px;" textLength="8.30" lengthAdjust="spacingAndGlyphs">(</text>
<text x="21.80" y="21.20" style="font-size:29.12px;fill:#0c0c0c;stroke:#0c0c0c;stroke-width:0.3px;" textLength="8.30" lengthAdjust="spacingAndGlyphs">)</text>
<text x="8.17" y="20.16" style="font-size:23.29px;fill:#0c0c0c;stroke:#0c0c0c;stroke-width:0.1px;font-style:italic;" textLength="13.87" lengthAdjust="spacingAndGlyphs">a</text>
<text x="0.10" y="557.40" style="font-size:29.12px;fill:#0c0c0c;stroke:#0c0c0c;stroke-width:0.3px;" textLength="8.30" lengthAdjust="spacingAndGlyphs">(</text>
<text x="21.80" y="557.40" style="font-size:29.12px;fill:#0c0c0c;stroke:#0c0c0c;stroke-width:0.3px;" textLength="8.30" lengthAdjust="spacingAndGlyphs">)</text>
<text x="8.67" y="557.17" style="font-size:23.31px;fill:#0c0c0c;stroke:#0c0c0c;stroke-width:0.1px;font-style:italic;" textLength="12.48" lengthAdjust="spacingAndGlyphs">b</text>
<rect x="95" y="621.4" width="420.5" height="420.6" fill="none" stroke="#969696" stroke-width="1.15"/>
<path d="M200.12 621.4v4.8M200.12 1042v-4.8M95 936.85h4.8M515.5 936.85h-4.8M305.25 621.4v4.8M305.25 1042v-4.8M95 831.70h4.8M515.5 831.70h-4.8M410.38 621.4v4.8M410.38 1042v-4.8M95 726.55h4.8M515.5 726.55h-4.8" stroke="#808080" stroke-width="1" fill="none"/>
<path d="M95.00 1042.00L103.95 1041.75L112.89 1041.50L121.84 1040.99L130.79 1040.49L139.73 1039.98L148.68 1039.48L157.63 1038.76L166.57 1038.00L175.52 1037.50L184.47 1036.49L193.41 1035.73L202.36 1034.98L211.31 1033.76L220.26 1032.75L229.20 1031.48L238.15 1030.22L247.10 1028.75L256.04 1027.49L264.99 1026.02L273.94 1024.33L282.88 1022.48L291.83 1020.72L300.78 1018.45L309.72 1015.71L318.67 1013.19L327.62 1008.44L336.56 1005.45L345.51 1001.45L354.46 997.21L363.40 992.16L372.35 987.32L381.30 980.42L390.24 973.44L399.19 967.55L408.14 957.88L417.09 947.11L426.03 939.12L434.98 923.39L443.93 908.80L452.87 899.00L461.82 873.76L470.77 851.05L479.71 813.61L488.66 770.42L497.61 721.50L506.55 670.19L515.50 621.40" stroke="#0808dc" stroke-width="1.55" fill="none" stroke-linejoin="round" stroke-linecap="butt"/>
<circle cx="95.00" cy="1042.00" r="3.4" fill="none" stroke="#0808dc" stroke-width="1.7"/>
<circle cx="103.95" cy="1041.75" r="3.4" fill="none" stroke="#0808dc" stroke-width="1.7"/>
<circle cx="112.89" cy="1041.50" r="3.4" fill="none" stroke="#0808dc" stroke-width="1.7"/>
<circle cx="121.84" cy="1040.99" r="3.4" fill="none" stroke="#0808dc" stroke-width="1.7"/>
<circle cx="130.79" cy="1040.49" r="3.4" fill="none" stroke="#0808dc" stroke-width="1.7"/>
<circle cx="139.73" cy="1039.98" r="3.4" fill="none" stroke="#0808dc" stroke-width="1.7"/>
<circle cx="148.68" cy="1039.48" r="3.4" fill="none" stroke="#0808dc" stroke-width="1.7"/>
<circle cx="157.63" cy="1038.76" r="3.4" fill="none" stroke="#0808dc" stroke-width="1.7"/>
<circle cx="166.57" cy="1038.00" r="3.4" fill="none" stroke="#0808dc" stroke-width="1.7"/>
<circle cx="175.52" cy="1037.50" r="3.4" fill="none" stroke="#0808dc" stroke-width="1.7"/>
<circle cx="184.47" cy="1036.49" r="3.4" fill="none" stroke="#0808dc" stroke-width="1.7"/>
<circle cx="193.41" cy="1035.73" r="3.4" fill="none" stroke="#0808dc" stroke-width="1.7"/>
<circle cx="202.36" cy="1034.98" r="3.4" fill="none" stroke="#0808dc" stroke-width="1.7"/>
<circle cx="211.31" cy="1033.76" r="3.4" fill="none" stroke="#0808dc" stroke-width="1.7"/>
<circle cx="220.26" cy="1032.75" r="3.4" fill="none" stroke="#0808dc" stroke-width="1.7"/>
<circle cx="229.20" cy="1031.48" r="3.4" fill="none" stroke="#0808dc" stroke-width="1.7"/>
<circle cx="238.15" cy="1030.22" r="3.4" fill="none" stroke="#0808dc" stroke-width="1.7"/>
<circle cx="247.10" cy="1028.75" r="3.4" fill="none" stroke="#0808dc" stroke-width="1.7"/>
<circle cx="256.04" cy="1027.49" r="3.4" fill="none" stroke="#0808dc" stroke-width="1.7"/>
<circle cx="264.99" cy="1026.02" r="3.4" fill="none" stroke="#0808dc" stroke-width="1.7"/>
<circle cx="273.94" cy="1024.33" r="3.4" fill="none" stroke="#0808dc" stroke-width="1.7"/>
<circle cx="282.88" cy="1022.48" r="3.4" fill="none" stroke="#0808dc" stroke-width="1.7"/>
<circle cx="291.83" cy="1020.72" r="3.4" fill="none" stroke="#0808dc" stroke-width="1.7"/>
<circle cx="300.78" cy="1018.45" r="3.4" fill="none" stroke="#0808dc" stroke-width="1.7"/>
<circle cx="309.72" cy="1015.71" r="3.4" fill="none" stroke="#0808dc" stroke-width="1.7"/>
<circle cx="318.67" cy="1013.19" r="3.4" fill="none" stroke="#0808dc" stroke-width="1.7"/>
<circle cx="327.62" cy="1008.44" r="3.4" fill="none" stroke="#0808dc" stroke-width="1.7"/>
<circle cx="336.56" cy="1005.45" r="3.4" fill="none" stroke="#0808dc" stroke-width="1.7"/>
<circle cx="345.51" cy="1001.45" r="3.4" fill="none" stroke="#0808dc" stroke-width="1.7"/>
<circle cx="354.46" cy="997.21" r="3.4" fill="none" stroke="#0808dc" stroke-width="1.7"/>
<circle cx="363.40" cy="992.16" r="3.4" fill="none" stroke="#0808dc" stroke-width="1.7"/>
<circle cx="372.35" cy="987.32" r="3.4" fill="none" stroke="#0808dc" stroke-width="1.7"/>
<circle cx="381.30" cy="980.42" r="3.4" fill="none" stroke="#0808dc" stroke-width="1.7"/>
<circle cx="390.24" cy="973.44" r="3.4" fill="none" stroke="#0808dc" stroke-width="1.7"/>
<circle cx="399.19" cy="967.55" r="3.4" fill="none" stroke="#0808dc" stroke-width="1.7"/>
<circle cx="408.14" cy="957.88" r="3.4" fill="none" stroke="#0808dc" stroke-width="1.7"/>
<circle cx="417.09" cy="947.11" r="3.4" fill="none" stroke="#0808dc" stroke-width="1.7"/>
<circle cx="426.03" cy="939.12" r="3.4" fill="none" stroke="#0808dc" stroke-width="1.7"/>
<circle cx="434.98" cy="923.39" r="3.4" fill="none" stroke="#0808dc" stroke-width="1.7"/>
<circle cx="443.93" cy="908.80" r="3.4" fill="none" stroke="#0808dc" stroke-width="1.7"/>
<circle cx="452.87" cy="899.00" r="3.4" fill="none" stroke="#0808dc" stroke-width="1.7"/>
<circle cx="461.82" cy="873.76" r="3.4" fill="none" stroke="#0808dc" stroke-width="1.7"/>
<circle cx="470.77" cy="851.05" r="3.4" fill="none" stroke="#0808dc" stroke-width="1.7"/>
<circle cx="479.71" cy="813.61" r="3.4" fill="none" stroke="#0808dc" stroke-width="1.7"/>
<circle cx="488.66" cy="770.42" r="3.4" fill="none" stroke="#0808dc" stroke-width="1.7"/>
<circle cx="497.61" cy="721.50" r="3.4" fill="none" stroke="#0808dc" stroke-width="1.7"/>
<circle cx="506.55" cy="670.19" r="3.4" fill="none" stroke="#0808dc" stroke-width="1.7"/>
<circle cx="515.50" cy="621.40" r="3.4" fill="none" stroke="#0808dc" stroke-width="1.7"/>
<path d="M95.00 1042.00L96.79 1041.96M101.65 1041.84L112.38 1041.59M117.24 1041.38L127.98 1040.87M132.83 1040.62L143.57 1040.02M148.43 1039.74L159.16 1039.03M164.02 1038.69L174.75 1037.93M179.61 1037.55L190.35 1036.69M194.95 1036.33L205.94 1035.43M210.54 1035.04L221.53 1034.08M226.13 1033.58L237.13 1032.58M241.73 1031.99L252.46 1030.93M257.32 1030.55L268.06 1029.05M272.91 1028.39L283.65 1026.88M288.51 1026.19L299.24 1024.26M304.10 1023.22L314.84 1020.54M319.69 1018.97L330.43 1014.43M335.29 1013.08L346.02 1008.74M350.88 1006.85L361.61 1001.45M366.47 998.73L377.21 992.59M382.06 989.65L392.80 981.87M397.40 978.10L407.45 967.48M411.72 962.67L420.37 952.03M423.84 947.19L431.37 936.28M434.46 931.72L442.03 920.68M444.75 915.91L449.17 905.10M451.02 900.58L455.49 889.54M457.40 884.78L461.72 874.01M463.15 869.26L466.33 858.49M467.73 853.74L470.92 842.97M472.34 838.21L475.58 827.42M477.01 822.65L480.08 811.86M481.07 807.08L483.30 796.29M484.29 791.51L486.53 780.72M487.52 775.94L489.62 765.15M490.49 760.38L492.47 749.60M493.34 744.83L495.31 734.05M496.23 729.03L498.17 718.25M499.00 713.49L500.88 702.73M501.71 697.97L503.59 687.21M504.41 682.45L506.29 671.69M507.15 666.94L509.12 656.18M510.04 651.17L512.01 640.42M512.88 635.66L514.86 624.90" stroke="#0808dc" stroke-width="1.5" fill="none" stroke-linejoin="round" stroke-linecap="butt"/>
<rect x="92.40" y="1039.40" width="5.2" height="5.2" fill="none" stroke="#0808dc" stroke-width="1.55"/>
<rect x="101.35" y="1039.19" width="5.2" height="5.2" fill="none" stroke="#0808dc" stroke-width="1.55"/>
<rect x="110.29" y="1038.98" width="5.2" height="5.2" fill="none" stroke="#0808dc" stroke-width="1.55"/>
<rect x="119.24" y="1038.56" width="5.2" height="5.2" fill="none" stroke="#0808dc" stroke-width="1.55"/>
<rect x="128.19" y="1038.14" width="5.2" height="5.2" fill="none" stroke="#0808dc" stroke-width="1.55"/>
<rect x="137.13" y="1037.63" width="5.2" height="5.2" fill="none" stroke="#0808dc" stroke-width="1.55"/>
<rect x="146.08" y="1037.13" width="5.2" height="5.2" fill="none" stroke="#0808dc" stroke-width="1.55"/>
<rect x="155.03" y="1036.54" width="5.2" height="5.2" fill="none" stroke="#0808dc" stroke-width="1.55"/>
<rect x="163.97" y="1035.91" width="5.2" height="5.2" fill="none" stroke="#0808dc" stroke-width="1.55"/>
<rect x="172.92" y="1035.28" width="5.2" height="5.2" fill="none" stroke="#0808dc" stroke-width="1.55"/>
<rect x="181.87" y="1034.56" width="5.2" height="5.2" fill="none" stroke="#0808dc" stroke-width="1.55"/>
<rect x="190.81" y="1033.85" width="5.2" height="5.2" fill="none" stroke="#0808dc" stroke-width="1.55"/>
<rect x="199.76" y="1033.13" width="5.2" height="5.2" fill="none" stroke="#0808dc" stroke-width="1.55"/>
<rect x="208.71" y="1032.38" width="5.2" height="5.2" fill="none" stroke="#0808dc" stroke-width="1.55"/>
<rect x="217.66" y="1031.62" width="5.2" height="5.2" fill="none" stroke="#0808dc" stroke-width="1.55"/>
<rect x="226.60" y="1030.65" width="5.2" height="5.2" fill="none" stroke="#0808dc" stroke-width="1.55"/>
<rect x="235.55" y="1029.89" width="5.2" height="5.2" fill="none" stroke="#0808dc" stroke-width="1.55"/>
<rect x="244.50" y="1028.63" width="5.2" height="5.2" fill="none" stroke="#0808dc" stroke-width="1.55"/>
<rect x="253.44" y="1028.13" width="5.2" height="5.2" fill="none" stroke="#0808dc" stroke-width="1.55"/>
<rect x="262.39" y="1026.87" width="5.2" height="5.2" fill="none" stroke="#0808dc" stroke-width="1.55"/>
<rect x="271.34" y="1025.65" width="5.2" height="5.2" fill="none" stroke="#0808dc" stroke-width="1.55"/>
<rect x="280.28" y="1024.38" width="5.2" height="5.2" fill="none" stroke="#0808dc" stroke-width="1.55"/>
<rect x="289.23" y="1023.12" width="5.2" height="5.2" fill="none" stroke="#0808dc" stroke-width="1.55"/>
<rect x="298.18" y="1021.36" width="5.2" height="5.2" fill="none" stroke="#0808dc" stroke-width="1.55"/>
<rect x="307.12" y="1019.38" width="5.2" height="5.2" fill="none" stroke="#0808dc" stroke-width="1.55"/>
<rect x="316.07" y="1016.86" width="5.2" height="5.2" fill="none" stroke="#0808dc" stroke-width="1.55"/>
<rect x="325.02" y="1012.61" width="5.2" height="5.2" fill="none" stroke="#0808dc" stroke-width="1.55"/>
<rect x="333.96" y="1010.13" width="5.2" height="5.2" fill="none" stroke="#0808dc" stroke-width="1.55"/>
<rect x="342.91" y="1006.34" width="5.2" height="5.2" fill="none" stroke="#0808dc" stroke-width="1.55"/>
<rect x="351.86" y="1002.85" width="5.2" height="5.2" fill="none" stroke="#0808dc" stroke-width="1.55"/>
<rect x="360.80" y="997.84" width="5.2" height="5.2" fill="none" stroke="#0808dc" stroke-width="1.55"/>
<rect x="369.75" y="992.84" width="5.2" height="5.2" fill="none" stroke="#0808dc" stroke-width="1.55"/>
<rect x="378.70" y="987.58" width="5.2" height="5.2" fill="none" stroke="#0808dc" stroke-width="1.55"/>
<rect x="387.64" y="981.36" width="5.2" height="5.2" fill="none" stroke="#0808dc" stroke-width="1.55"/>
<rect x="396.59" y="974.04" width="5.2" height="5.2" fill="none" stroke="#0808dc" stroke-width="1.55"/>
<rect x="405.54" y="964.11" width="5.2" height="5.2" fill="none" stroke="#0808dc" stroke-width="1.55"/>
<rect x="414.49" y="954.02" width="5.2" height="5.2" fill="none" stroke="#0808dc" stroke-width="1.55"/>
<rect x="423.43" y="941.53" width="5.2" height="5.2" fill="none" stroke="#0808dc" stroke-width="1.55"/>
<rect x="432.38" y="928.36" width="5.2" height="5.2" fill="none" stroke="#0808dc" stroke-width="1.55"/>
<rect x="441.33" y="915.32" width="5.2" height="5.2" fill="none" stroke="#0808dc" stroke-width="1.55"/>
<rect x="450.27" y="893.45" width="5.2" height="5.2" fill="none" stroke="#0808dc" stroke-width="1.55"/>
<rect x="459.22" y="871.16" width="5.2" height="5.2" fill="none" stroke="#0808dc" stroke-width="1.55"/>
<rect x="468.17" y="840.88" width="5.2" height="5.2" fill="none" stroke="#0808dc" stroke-width="1.55"/>
<rect x="477.11" y="811.01" width="5.2" height="5.2" fill="none" stroke="#0808dc" stroke-width="1.55"/>
<rect x="486.06" y="767.82" width="5.2" height="5.2" fill="none" stroke="#0808dc" stroke-width="1.55"/>
<rect x="495.01" y="718.90" width="5.2" height="5.2" fill="none" stroke="#0808dc" stroke-width="1.55"/>
<rect x="503.95" y="667.59" width="5.2" height="5.2" fill="none" stroke="#0808dc" stroke-width="1.55"/>
<rect x="512.90" y="618.80" width="5.2" height="5.2" fill="none" stroke="#0808dc" stroke-width="1.55"/>
<path d="M95.00 1042.00L96.28 1041.25M98.07 1040.21L99.09 1039.61M100.88 1038.57L101.90 1037.97M103.95 1036.78L104.97 1036.17M106.76 1035.11L107.78 1034.50M109.57 1033.44L110.59 1032.83M112.64 1031.62L113.66 1031.00M115.45 1029.92L116.47 1029.30M118.26 1028.22L119.28 1027.60M121.33 1026.36L122.35 1025.74M124.14 1024.63L125.16 1024.00M126.95 1022.90L127.98 1022.27M130.02 1021.01L131.04 1020.38M132.83 1019.25L133.85 1018.61M135.64 1017.49L136.67 1016.85M138.71 1015.56L139.73 1014.92M141.52 1013.78L142.55 1013.12M144.34 1011.98L145.36 1011.32M147.40 1010.01L148.43 1009.36M150.21 1008.20L151.24 1007.53M153.03 1006.36L154.30 1005.53M156.09 1004.36L157.12 1003.70M158.91 1002.51L159.93 1001.83M161.72 1000.64L163.00 999.79M164.79 998.60L165.81 997.93M167.60 996.72L168.62 996.03M170.41 994.82L171.69 993.95M173.48 992.74L174.50 992.05M176.29 990.82L177.31 990.12M179.36 988.70L180.38 988.00M182.17 986.76L183.19 986.05M184.98 984.81L186.00 984.09M188.05 982.65L189.07 981.93M190.86 980.67L191.88 979.95M193.67 978.68L194.69 977.95M196.74 976.47L197.76 975.74M199.55 974.45L200.57 973.72M202.36 972.43L203.38 971.68M205.43 970.18L206.45 969.43M208.24 968.12L209.26 967.37M211.05 966.06L212.08 965.29M214.12 963.76L215.14 963.00M216.93 961.66L217.95 960.89M219.74 959.55L220.77 958.78M222.81 957.22L223.83 956.43M225.62 955.07L226.65 954.29M228.44 952.92L229.46 952.13M231.50 950.54L232.53 949.74M234.31 948.34L235.34 947.55M237.13 946.15L238.40 945.15M240.19 943.72L241.22 942.91M243.01 941.48L244.03 940.67M245.82 939.24L247.10 938.22M248.89 936.77L249.91 935.94M251.70 934.48L252.72 933.65M254.51 932.19L255.79 931.15M257.58 929.67L258.60 928.82M260.39 927.33L261.41 926.48M263.46 924.78L264.48 923.93M266.27 922.42L267.29 921.55M269.08 920.03L270.10 919.16M272.15 917.42L273.17 916.55M274.96 915.01L275.98 914.13M277.77 912.57L278.79 911.68M280.84 909.91L281.86 909.02M283.65 907.45L284.67 906.54M286.46 904.95L287.48 904.05M289.53 902.23L290.55 901.32M292.34 899.72L293.36 898.80M295.15 897.17L296.18 896.24M298.22 894.39L299.24 893.46M301.03 891.83L302.05 890.88M303.84 889.22L304.87 888.27M306.91 886.37L307.93 885.42M309.72 883.76L310.75 882.78M312.54 881.08L313.56 880.11M315.60 878.17L316.63 877.20M318.41 875.50L319.44 874.51M321.23 872.77L322.50 871.53M324.29 869.78L325.32 868.79M327.11 867.05L328.13 866.04M329.92 864.26L331.20 862.99M332.99 861.21L334.01 860.19M335.80 858.41L336.81 857.39M338.80 855.37L339.79 854.35M341.53 852.58L342.53 851.57M344.27 849.79L345.51 848.53M347.20 846.76L348.17 845.75M349.86 843.98L351.07 842.72M352.76 840.95L353.73 839.94M355.40 838.18L356.58 836.92M358.22 835.15L359.17 834.15M360.81 832.38L361.99 831.12M363.63 829.36L364.55 828.35M366.16 826.59L367.30 825.34M368.91 823.57L369.83 822.57M371.43 820.81L372.57 819.55M374.14 817.79L375.04 816.78M376.82 814.77L377.72 813.77M379.28 812.01L380.18 811.00M381.95 808.99L382.83 807.98M384.35 806.22L385.23 805.22M386.97 803.20L387.84 802.20M389.37 800.44L390.24 799.43M391.95 797.42L392.80 796.41M394.29 794.64L395.14 793.64M396.85 791.62L397.70 790.61M399.19 788.85L400.02 787.84M401.69 785.82L402.52 784.81M403.98 783.04L404.81 782.03M406.47 780.01L407.31 779.00M408.75 777.23L409.56 776.22M411.19 774.19L412.00 773.18M413.43 771.41L414.24 770.39M415.87 768.37L416.68 767.35M418.08 765.58L418.87 764.56M420.27 762.78L421.26 761.51M422.65 759.73L423.45 758.71M424.84 756.93L425.63 755.91M427.17 753.90L427.94 752.90M429.27 751.15L430.03 750.15M431.55 748.15L432.31 747.15M433.65 745.40L434.60 744.15M435.91 742.39L436.66 741.38M438.15 739.37L438.89 738.36M440.20 736.60L440.94 735.59M442.43 733.58L443.18 732.57M444.47 730.80L445.20 729.79M446.66 727.76L447.39 726.75M448.67 724.97L449.40 723.96M450.68 722.19L451.59 720.92M452.87 719.14L453.57 718.14M454.80 716.39L455.68 715.14M456.91 713.38L457.61 712.38M459.01 710.38L459.71 709.38M460.94 707.62L461.64 706.62M463.02 704.60L463.71 703.59M464.92 701.82L465.60 700.81M466.98 698.79L467.67 697.78M468.87 696.01L469.56 695.00M470.93 692.98L471.59 691.98M472.75 690.22L473.42 689.22M474.74 687.22L475.41 686.22M476.56 684.46L477.39 683.21M478.55 681.46L479.22 680.46M480.36 678.69L481.18 677.43M482.32 675.65L482.97 674.64M484.10 672.87L484.76 671.85M486.06 669.83L486.71 668.82M487.85 667.04L488.50 666.03M489.76 664.02L490.39 663.01M491.48 661.25L492.11 660.24M493.37 658.23L494.00 657.22M495.09 655.46L495.72 654.45M496.98 652.44L497.61 651.43M498.67 649.68L499.43 648.42M500.49 646.67L501.09 645.67M502.31 643.66L502.91 642.66M503.98 640.91L504.58 639.90M505.79 637.90L506.40 636.90M507.45 635.12L508.04 634.10M509.24 632.07L509.83 631.06M510.88 629.28L511.47 628.26M512.52 626.48L513.26 625.21M514.31 623.43L514.90 622.42" stroke="#ea1018" stroke-width="1.4" fill="none" stroke-linejoin="round" stroke-linecap="butt"/>
<path d="M91.20 1042.00L98.80 1042.00M92.53 1039.53L97.47 1044.47M95.00 1038.20L95.00 1045.80M97.47 1039.53L92.53 1044.47" stroke="#ea1018" stroke-width="1.5" fill="none"/>
<path d="M100.15 1036.78L107.75 1036.78M101.47 1034.31L106.42 1039.25M103.95 1032.98L103.95 1040.58M106.42 1034.31L101.47 1039.25" stroke="#ea1018" stroke-width="1.5" fill="none"/>
<path d="M109.09 1031.47L116.69 1031.47M110.42 1028.99L115.37 1033.94M112.89 1027.67L112.89 1035.27M115.37 1028.99L110.42 1033.94" stroke="#ea1018" stroke-width="1.5" fill="none"/>
<path d="M118.04 1026.05L125.64 1026.05M119.37 1023.58L124.31 1028.52M121.84 1022.25L121.84 1029.85M124.31 1023.58L119.37 1028.52" stroke="#ea1018" stroke-width="1.5" fill="none"/>
<path d="M126.99 1020.54L134.59 1020.54M128.32 1018.07L133.26 1023.01M130.79 1016.74L130.79 1024.34M133.26 1018.07L128.32 1023.01" stroke="#ea1018" stroke-width="1.5" fill="none"/>
<path d="M135.93 1014.92L143.53 1014.92M137.26 1012.45L142.21 1017.39M139.73 1011.12L139.73 1018.72M142.21 1012.45L137.26 1017.39" stroke="#ea1018" stroke-width="1.5" fill="none"/>
<path d="M144.88 1009.20L152.48 1009.20M146.21 1006.72L151.15 1011.67M148.68 1005.40L148.68 1013.00M151.15 1006.72L146.21 1011.67" stroke="#ea1018" stroke-width="1.5" fill="none"/>
<path d="M153.83 1003.36L161.43 1003.36M155.16 1000.89L160.10 1005.83M157.63 999.56L157.63 1007.16M160.10 1000.89L155.16 1005.83" stroke="#ea1018" stroke-width="1.5" fill="none"/>
<path d="M162.77 997.42L170.37 997.42M164.10 994.94L169.05 999.89M166.57 993.62L166.57 1001.22M169.05 994.94L164.10 999.89" stroke="#ea1018" stroke-width="1.5" fill="none"/>
<path d="M171.72 991.35L179.32 991.35M173.05 988.88L177.99 993.82M175.52 987.55L175.52 995.15M177.99 988.88L173.05 993.82" stroke="#ea1018" stroke-width="1.5" fill="none"/>
<path d="M180.67 985.17L188.27 985.17M182.00 982.70L186.94 987.64M184.47 981.37L184.47 988.97M186.94 982.70L182.00 987.64" stroke="#ea1018" stroke-width="1.5" fill="none"/>
<path d="M189.61 978.86L197.21 978.86M190.94 976.39L195.89 981.34M193.41 975.06L193.41 982.66M195.89 976.39L190.94 981.34" stroke="#ea1018" stroke-width="1.5" fill="none"/>
<path d="M198.56 972.43L206.16 972.43M199.89 969.96L204.83 974.90M202.36 968.63L202.36 976.23M204.83 969.96L199.89 974.90" stroke="#ea1018" stroke-width="1.5" fill="none"/>
<path d="M207.51 965.87L215.11 965.87M208.84 963.40L213.78 968.34M211.31 962.07L211.31 969.67M213.78 963.40L208.84 968.34" stroke="#ea1018" stroke-width="1.5" fill="none"/>
<path d="M216.46 959.17L224.06 959.17M217.78 956.70L222.73 961.64M220.26 955.37L220.26 962.97M222.73 956.70L217.78 961.64" stroke="#ea1018" stroke-width="1.5" fill="none"/>
<path d="M225.40 952.33L233.00 952.33M226.73 949.86L231.67 954.80M229.20 948.53L229.20 956.13M231.67 949.86L226.73 954.80" stroke="#ea1018" stroke-width="1.5" fill="none"/>
<path d="M234.35 945.35L241.95 945.35M235.68 942.88L240.62 947.82M238.15 941.55L238.15 949.15M240.62 942.88L235.68 947.82" stroke="#ea1018" stroke-width="1.5" fill="none"/>
<path d="M243.30 938.22L250.90 938.22M244.62 935.75L249.57 940.70M247.10 934.42L247.10 942.02M249.57 935.75L244.62 940.70" stroke="#ea1018" stroke-width="1.5" fill="none"/>
<path d="M252.24 930.94L259.84 930.94M253.57 928.47L258.51 933.41M256.04 927.14L256.04 934.74M258.51 928.47L253.57 933.41" stroke="#ea1018" stroke-width="1.5" fill="none"/>
<path d="M261.19 923.50L268.79 923.50M262.52 921.03L267.46 925.98M264.99 919.70L264.99 927.30M267.46 921.03L262.52 925.98" stroke="#ea1018" stroke-width="1.5" fill="none"/>
<path d="M270.14 915.90L277.74 915.90M271.46 913.43L276.41 918.37M273.94 912.10L273.94 919.70M276.41 913.43L271.46 918.37" stroke="#ea1018" stroke-width="1.5" fill="none"/>
<path d="M279.08 908.13L286.68 908.13M280.41 905.66L285.36 910.60M282.88 904.33L282.88 911.93M285.36 905.66L280.41 910.60" stroke="#ea1018" stroke-width="1.5" fill="none"/>
<path d="M288.03 900.19L295.63 900.19M289.36 897.72L294.30 902.66M291.83 896.39L291.83 903.99M294.30 897.72L289.36 902.66" stroke="#ea1018" stroke-width="1.5" fill="none"/>
<path d="M296.98 892.07L304.58 892.07M298.30 889.59L303.25 894.54M300.78 888.27L300.78 895.87M303.25 889.59L298.30 894.54" stroke="#ea1018" stroke-width="1.5" fill="none"/>
<path d="M305.92 883.76L313.52 883.76M307.25 881.28L312.20 886.23M309.72 879.96L309.72 887.56M312.20 881.28L307.25 886.23" stroke="#ea1018" stroke-width="1.5" fill="none"/>
<path d="M314.87 875.25L322.47 875.25M316.20 872.78L321.14 877.73M318.67 871.45L318.67 879.05M321.14 872.78L316.20 877.73" stroke="#ea1018" stroke-width="1.5" fill="none"/>
<path d="M323.82 866.55L331.42 866.55M325.14 864.08L330.09 869.03M327.62 862.75L327.62 870.35M330.09 864.08L325.14 869.03" stroke="#ea1018" stroke-width="1.5" fill="none"/>
<path d="M332.76 857.65L340.36 857.65M334.09 855.17L339.04 860.12M336.56 853.85L336.56 861.45M339.04 855.17L334.09 860.12" stroke="#ea1018" stroke-width="1.5" fill="none"/>
<path d="M341.71 848.53L349.31 848.53M343.04 846.05L347.98 851.00M345.51 844.73L345.51 852.33M347.98 846.05L343.04 851.00" stroke="#ea1018" stroke-width="1.5" fill="none"/>
<path d="M350.66 839.18L358.26 839.18M351.99 836.71L356.93 841.66M354.46 835.38L354.46 842.98M356.93 836.71L351.99 841.66" stroke="#ea1018" stroke-width="1.5" fill="none"/>
<path d="M359.60 829.61L367.20 829.61M360.93 827.14L365.88 832.08M363.40 825.81L363.40 833.41M365.88 827.14L360.93 832.08" stroke="#ea1018" stroke-width="1.5" fill="none"/>
<path d="M368.55 819.80L376.15 819.80M369.88 817.33L374.82 822.27M372.35 816.00L372.35 823.60M374.82 817.33L369.88 822.27" stroke="#ea1018" stroke-width="1.5" fill="none"/>
<path d="M377.50 809.74L385.10 809.74M378.83 807.27L383.77 812.22M381.30 805.94L381.30 813.54M383.77 807.27L378.83 812.22" stroke="#ea1018" stroke-width="1.5" fill="none"/>
<path d="M386.44 799.43L394.04 799.43M387.77 796.96L392.72 801.90M390.24 795.63L390.24 803.23M392.72 796.96L387.77 801.90" stroke="#ea1018" stroke-width="1.5" fill="none"/>
<path d="M395.39 788.85L402.99 788.85M396.72 786.38L401.66 791.32M399.19 785.05L399.19 792.65M401.66 786.38L396.72 791.32" stroke="#ea1018" stroke-width="1.5" fill="none"/>
<path d="M404.34 777.99L411.94 777.99M405.67 775.52L410.61 780.47M408.14 774.19L408.14 781.79M410.61 775.52L405.67 780.47" stroke="#ea1018" stroke-width="1.5" fill="none"/>
<path d="M413.29 766.85L420.89 766.85M414.61 764.38L419.56 769.32M417.09 763.05L417.09 770.65M419.56 764.38L414.61 769.32" stroke="#ea1018" stroke-width="1.5" fill="none"/>
<path d="M422.23 755.40L429.83 755.40M423.56 752.93L428.50 757.88M426.03 751.60L426.03 759.20M428.50 752.93L423.56 757.88" stroke="#ea1018" stroke-width="1.5" fill="none"/>
<path d="M431.18 743.65L438.78 743.65M432.51 741.17L437.45 746.12M434.98 739.85L434.98 747.45M437.45 741.17L432.51 746.12" stroke="#ea1018" stroke-width="1.5" fill="none"/>
<path d="M440.13 731.56L447.73 731.56M441.45 729.09L446.40 734.04M443.93 727.76L443.93 735.36M446.40 729.09L441.45 734.04" stroke="#ea1018" stroke-width="1.5" fill="none"/>
<path d="M449.07 719.14L456.67 719.14M450.40 716.67L455.34 721.62M452.87 715.34L452.87 722.94M455.34 716.67L450.40 721.62" stroke="#ea1018" stroke-width="1.5" fill="none"/>
<path d="M458.02 706.37L465.62 706.37M459.35 703.90L464.29 708.84M461.82 702.57L461.82 710.17M464.29 703.90L459.35 708.84" stroke="#ea1018" stroke-width="1.5" fill="none"/>
<path d="M466.97 693.23L474.57 693.23M468.29 690.76L473.24 695.70M470.77 689.43L470.77 697.03M473.24 690.76L468.29 695.70" stroke="#ea1018" stroke-width="1.5" fill="none"/>
<path d="M475.91 679.70L483.51 679.70M477.24 677.23L482.18 682.18M479.71 675.90L479.71 683.50M482.18 677.23L477.24 682.18" stroke="#ea1018" stroke-width="1.5" fill="none"/>
<path d="M484.86 665.78L492.46 665.78M486.19 663.31L491.13 668.25M488.66 661.98L488.66 669.58M491.13 663.31L486.19 668.25" stroke="#ea1018" stroke-width="1.5" fill="none"/>
<path d="M493.81 651.43L501.41 651.43M495.13 648.96L500.08 653.90M497.61 647.63L497.61 655.23M500.08 648.96L495.13 653.90" stroke="#ea1018" stroke-width="1.5" fill="none"/>
<path d="M502.75 636.64L510.35 636.64M504.08 634.17L509.03 639.12M506.55 632.84L506.55 640.44M509.03 634.17L504.08 639.12" stroke="#ea1018" stroke-width="1.5" fill="none"/>
<path d="M511.70 621.40L519.30 621.40M513.03 618.93L517.97 623.87M515.50 617.60L515.50 625.20M517.97 618.93L513.03 623.87" stroke="#ea1018" stroke-width="1.5" fill="none"/>
<path d="M95.00 1042.00L96.28 1040.72M98.07 1038.93L99.09 1037.91M100.88 1036.12L101.90 1035.10M103.95 1033.05L104.97 1032.03M106.76 1030.24L107.78 1029.22M109.57 1027.43L110.59 1026.40M112.64 1024.36L113.66 1023.34M115.45 1021.55L116.47 1020.52M118.26 1018.73L119.28 1017.71M121.33 1015.66L122.35 1014.64M124.14 1012.85L125.16 1011.83M126.95 1010.04L127.98 1009.02M130.02 1006.97L131.04 1005.95M132.83 1004.16L133.85 1003.14M135.64 1001.35L136.67 1000.32M138.71 998.28L139.73 997.26M141.52 995.47L142.55 994.44M144.34 992.65L145.36 991.63M147.40 989.58L148.43 988.56M150.21 986.77L151.24 985.75M153.03 983.96L154.05 982.94M156.09 980.89L157.12 979.87M158.91 978.08L159.93 977.06M161.72 975.27L162.74 974.24M164.79 972.20L165.81 971.18M167.60 969.39L168.62 968.36M170.41 966.57L171.69 965.29M173.48 963.51L174.50 962.48M176.29 960.69L177.31 959.67M179.10 957.88L180.38 956.60M182.17 954.81L183.19 953.79M184.98 952.00L186.00 950.98M187.79 949.19L189.07 947.91M190.86 946.12L191.88 945.10M193.67 943.31L194.69 942.28M196.48 940.49L197.76 939.22M199.55 937.43L200.57 936.40M202.36 934.61L203.38 933.59M205.43 931.54L206.45 930.52M208.24 928.73L209.26 927.71M211.05 925.92L212.08 924.90M214.12 922.85L215.14 921.83M216.93 920.04L217.95 919.02M219.74 917.23L220.77 916.20M222.81 914.16L223.83 913.14M225.62 911.35L226.65 910.32M228.44 908.53L229.46 907.51M231.50 905.46L232.53 904.44M234.31 902.65L235.34 901.63M237.13 899.84L238.15 898.82M240.19 896.77L241.22 895.75M243.01 893.96L244.03 892.94M245.82 891.15L246.84 890.12M248.89 888.08L249.91 887.06M251.70 885.27L252.72 884.24M254.51 882.45L255.53 881.43M257.58 879.39L258.60 878.36M260.39 876.57L261.41 875.55M263.20 873.76L264.22 872.74M266.27 870.69L267.29 869.67M269.08 867.88L270.10 866.86M271.89 865.07L272.91 864.04M274.96 862.00L275.98 860.98M277.77 859.19L278.79 858.16M280.58 856.37L281.86 855.10M283.65 853.31L284.67 852.28M286.46 850.49L287.48 849.47M289.27 847.68L290.55 846.40M292.34 844.61L293.36 843.59M295.15 841.80L296.18 840.78M297.96 838.99L299.24 837.71M301.03 835.92L302.05 834.90M303.84 833.11L304.87 832.08M306.66 830.29L307.93 829.02M309.72 827.23L310.75 826.20M312.54 824.41L313.56 823.39M315.60 821.34L316.63 820.32M318.41 818.53L319.44 817.51M321.23 815.72L322.25 814.70M324.29 812.65L325.32 811.63M327.11 809.84L328.13 808.82M329.92 807.03L330.94 806.00M332.99 803.96L334.01 802.94M335.80 801.15L336.82 800.12M338.61 798.33L339.63 797.31M341.68 795.27L342.70 794.24M344.49 792.45L345.51 791.43M347.30 789.64L348.32 788.62M350.37 786.57L351.39 785.55M353.18 783.76L354.20 782.74M355.99 780.95L357.01 779.92M359.06 777.88L360.08 776.86M361.87 775.07L362.89 774.04M364.68 772.25L365.70 771.23M367.75 769.19L368.77 768.16M370.56 766.37L371.58 765.35M373.37 763.56L374.40 762.54M376.44 760.49L377.46 759.47M379.25 757.68L380.28 756.66M382.06 754.87L383.09 753.84M385.13 751.80L386.15 750.78M387.94 748.99L388.97 747.96M390.76 746.17L392.03 744.90M393.82 743.11L394.85 742.08M396.64 740.29L397.66 739.27M399.45 737.48L400.73 736.20M402.51 734.41L403.54 733.39M405.33 731.60L406.35 730.58M408.14 728.79L409.42 727.51M411.21 725.72L412.23 724.70M414.02 722.91L415.04 721.88M416.83 720.09L418.11 718.82M419.90 717.03L420.92 716.00M422.71 714.21L423.73 713.19M425.78 711.15L426.80 710.12M428.59 708.33L429.61 707.31M431.40 705.52L432.42 704.50M434.47 702.45L435.49 701.43M437.28 699.64L438.30 698.62M440.09 696.83L441.11 695.80M443.16 693.76L444.18 692.74M445.97 690.95L446.99 689.92M448.78 688.13L449.80 687.11M451.85 685.07L452.87 684.04M454.66 682.25L455.68 681.23M457.47 679.44L458.50 678.42M460.54 676.37L461.56 675.35M463.35 673.56L464.38 672.54M466.16 670.75L467.19 669.72M469.23 667.68L470.25 666.66M472.04 664.87L473.07 663.84M474.86 662.05L475.88 661.03M477.92 658.99L478.95 657.96M480.74 656.17L481.76 655.15M483.55 653.36L484.57 652.34M486.61 650.29L487.64 649.27M489.43 647.48L490.45 646.46M492.24 644.67L493.26 643.64M495.31 641.60L496.33 640.58M498.12 638.79L499.14 637.76M500.93 635.97L502.21 634.70M504.00 632.91L505.02 631.88M506.81 630.09L507.83 629.07M509.62 627.28L510.90 626.00M512.69 624.21L513.71 623.19M515.50 621.40L515.50 621.40" stroke="#0c0c0c" stroke-width="1.4" fill="none" stroke-linejoin="round" stroke-linecap="butt"/>
<path d="M91.20 1042.00L98.80 1042.00M92.53 1039.53L97.47 1044.47M95.00 1038.20L95.00 1045.80M97.47 1039.53L92.53 1044.47" stroke="#0c0c0c" stroke-width="1.5" fill="none"/>
<path d="M100.15 1033.05L107.75 1033.05M101.47 1030.58L106.42 1035.52M103.95 1029.25L103.95 1036.85M106.42 1030.58L101.47 1035.52" stroke="#0c0c0c" stroke-width="1.5" fill="none"/>
<path d="M109.09 1024.10L116.69 1024.10M110.42 1021.63L115.37 1026.57M112.89 1020.30L112.89 1027.90M115.37 1021.63L110.42 1026.57" stroke="#0c0c0c" stroke-width="1.5" fill="none"/>
<path d="M118.04 1015.15L125.64 1015.15M119.37 1012.68L124.31 1017.63M121.84 1011.35L121.84 1018.95M124.31 1012.68L119.37 1017.63" stroke="#0c0c0c" stroke-width="1.5" fill="none"/>
<path d="M126.99 1006.20L134.59 1006.20M128.32 1003.73L133.26 1008.68M130.79 1002.40L130.79 1010.00M133.26 1003.73L128.32 1008.68" stroke="#0c0c0c" stroke-width="1.5" fill="none"/>
<path d="M135.93 997.26L143.53 997.26M137.26 994.78L142.21 999.73M139.73 993.46L139.73 1001.06M142.21 994.78L137.26 999.73" stroke="#0c0c0c" stroke-width="1.5" fill="none"/>
<path d="M144.88 988.31L152.48 988.31M146.21 985.83L151.15 990.78M148.68 984.51L148.68 992.11M151.15 985.83L146.21 990.78" stroke="#0c0c0c" stroke-width="1.5" fill="none"/>
<path d="M153.83 979.36L161.43 979.36M155.16 976.89L160.10 981.83M157.63 975.56L157.63 983.16M160.10 976.89L155.16 981.83" stroke="#0c0c0c" stroke-width="1.5" fill="none"/>
<path d="M162.77 970.41L170.37 970.41M164.10 967.94L169.05 972.88M166.57 966.61L166.57 974.21M169.05 967.94L164.10 972.88" stroke="#0c0c0c" stroke-width="1.5" fill="none"/>
<path d="M171.72 961.46L179.32 961.46M173.05 958.99L177.99 963.93M175.52 957.66L175.52 965.26M177.99 958.99L173.05 963.93" stroke="#0c0c0c" stroke-width="1.5" fill="none"/>
<path d="M180.67 952.51L188.27 952.51M182.00 950.04L186.94 954.98M184.47 948.71L184.47 956.31M186.94 950.04L182.00 954.98" stroke="#0c0c0c" stroke-width="1.5" fill="none"/>
<path d="M189.61 943.56L197.21 943.56M190.94 941.09L195.89 946.03M193.41 939.76L193.41 947.36M195.89 941.09L190.94 946.03" stroke="#0c0c0c" stroke-width="1.5" fill="none"/>
<path d="M198.56 934.61L206.16 934.61M199.89 932.14L204.83 937.08M202.36 930.81L202.36 938.41M204.83 932.14L199.89 937.08" stroke="#0c0c0c" stroke-width="1.5" fill="none"/>
<path d="M207.51 925.66L215.11 925.66M208.84 923.19L213.78 928.14M211.31 921.86L211.31 929.46M213.78 923.19L208.84 928.14" stroke="#0c0c0c" stroke-width="1.5" fill="none"/>
<path d="M216.46 916.71L224.06 916.71M217.78 914.24L222.73 919.19M220.26 912.91L220.26 920.51M222.73 914.24L217.78 919.19" stroke="#0c0c0c" stroke-width="1.5" fill="none"/>
<path d="M225.40 907.77L233.00 907.77M226.73 905.29L231.67 910.24M229.20 903.97L229.20 911.57M231.67 905.29L226.73 910.24" stroke="#0c0c0c" stroke-width="1.5" fill="none"/>
<path d="M234.35 898.82L241.95 898.82M235.68 896.34L240.62 901.29M238.15 895.02L238.15 902.62M240.62 896.34L235.68 901.29" stroke="#0c0c0c" stroke-width="1.5" fill="none"/>
<path d="M243.30 889.87L250.90 889.87M244.62 887.40L249.57 892.34M247.10 886.07L247.10 893.67M249.57 887.40L244.62 892.34" stroke="#0c0c0c" stroke-width="1.5" fill="none"/>
<path d="M252.24 880.92L259.84 880.92M253.57 878.45L258.51 883.39M256.04 877.12L256.04 884.72M258.51 878.45L253.57 883.39" stroke="#0c0c0c" stroke-width="1.5" fill="none"/>
<path d="M261.19 871.97L268.79 871.97M262.52 869.50L267.46 874.44M264.99 868.17L264.99 875.77M267.46 869.50L262.52 874.44" stroke="#0c0c0c" stroke-width="1.5" fill="none"/>
<path d="M270.14 863.02L277.74 863.02M271.46 860.55L276.41 865.49M273.94 859.22L273.94 866.82M276.41 860.55L271.46 865.49" stroke="#0c0c0c" stroke-width="1.5" fill="none"/>
<path d="M279.08 854.07L286.68 854.07M280.41 851.60L285.36 856.54M282.88 850.27L282.88 857.87M285.36 851.60L280.41 856.54" stroke="#0c0c0c" stroke-width="1.5" fill="none"/>
<path d="M288.03 845.12L295.63 845.12M289.36 842.65L294.30 847.60M291.83 841.32L291.83 848.92M294.30 842.65L289.36 847.60" stroke="#0c0c0c" stroke-width="1.5" fill="none"/>
<path d="M296.98 836.17L304.58 836.17M298.30 833.70L303.25 838.65M300.78 832.37L300.78 839.97M303.25 833.70L298.30 838.65" stroke="#0c0c0c" stroke-width="1.5" fill="none"/>
<path d="M305.92 827.23L313.52 827.23M307.25 824.75L312.20 829.70M309.72 823.43L309.72 831.03M312.20 824.75L307.25 829.70" stroke="#0c0c0c" stroke-width="1.5" fill="none"/>
<path d="M314.87 818.28L322.47 818.28M316.20 815.80L321.14 820.75M318.67 814.48L318.67 822.08M321.14 815.80L316.20 820.75" stroke="#0c0c0c" stroke-width="1.5" fill="none"/>
<path d="M323.82 809.33L331.42 809.33M325.14 806.86L330.09 811.80M327.62 805.53L327.62 813.13M330.09 806.86L325.14 811.80" stroke="#0c0c0c" stroke-width="1.5" fill="none"/>
<path d="M332.76 800.38L340.36 800.38M334.09 797.91L339.04 802.85M336.56 796.58L336.56 804.18M339.04 797.91L334.09 802.85" stroke="#0c0c0c" stroke-width="1.5" fill="none"/>
<path d="M341.71 791.43L349.31 791.43M343.04 788.96L347.98 793.90M345.51 787.63L345.51 795.23M347.98 788.96L343.04 793.90" stroke="#0c0c0c" stroke-width="1.5" fill="none"/>
<path d="M350.66 782.48L358.26 782.48M351.99 780.01L356.93 784.95M354.46 778.68L354.46 786.28M356.93 780.01L351.99 784.95" stroke="#0c0c0c" stroke-width="1.5" fill="none"/>
<path d="M359.60 773.53L367.20 773.53M360.93 771.06L365.88 776.00M363.40 769.73L363.40 777.33M365.88 771.06L360.93 776.00" stroke="#0c0c0c" stroke-width="1.5" fill="none"/>
<path d="M368.55 764.58L376.15 764.58M369.88 762.11L374.82 767.06M372.35 760.78L372.35 768.38M374.82 762.11L369.88 767.06" stroke="#0c0c0c" stroke-width="1.5" fill="none"/>
<path d="M377.50 755.63L385.10 755.63M378.83 753.16L383.77 758.11M381.30 751.83L381.30 759.43M383.77 753.16L378.83 758.11" stroke="#0c0c0c" stroke-width="1.5" fill="none"/>
<path d="M386.44 746.69L394.04 746.69M387.77 744.21L392.72 749.16M390.24 742.89L390.24 750.49M392.72 744.21L387.77 749.16" stroke="#0c0c0c" stroke-width="1.5" fill="none"/>
<path d="M395.39 737.74L402.99 737.74M396.72 735.26L401.66 740.21M399.19 733.94L399.19 741.54M401.66 735.26L396.72 740.21" stroke="#0c0c0c" stroke-width="1.5" fill="none"/>
<path d="M404.34 728.79L411.94 728.79M405.67 726.32L410.61 731.26M408.14 724.99L408.14 732.59M410.61 726.32L405.67 731.26" stroke="#0c0c0c" stroke-width="1.5" fill="none"/>
<path d="M413.29 719.84L420.89 719.84M414.61 717.37L419.56 722.31M417.09 716.04L417.09 723.64M419.56 717.37L414.61 722.31" stroke="#0c0c0c" stroke-width="1.5" fill="none"/>
<path d="M422.23 710.89L429.83 710.89M423.56 708.42L428.50 713.36M426.03 707.09L426.03 714.69M428.50 708.42L423.56 713.36" stroke="#0c0c0c" stroke-width="1.5" fill="none"/>
<path d="M431.18 701.94L438.78 701.94M432.51 699.47L437.45 704.41M434.98 698.14L434.98 705.74M437.45 699.47L432.51 704.41" stroke="#0c0c0c" stroke-width="1.5" fill="none"/>
<path d="M440.13 692.99L447.73 692.99M441.45 690.52L446.40 695.46M443.93 689.19L443.93 696.79M446.40 690.52L441.45 695.46" stroke="#0c0c0c" stroke-width="1.5" fill="none"/>
<path d="M449.07 684.04L456.67 684.04M450.40 681.57L455.34 686.51M452.87 680.24L452.87 687.84M455.34 681.57L450.40 686.51" stroke="#0c0c0c" stroke-width="1.5" fill="none"/>
<path d="M458.02 675.09L465.62 675.09M459.35 672.62L464.29 677.57M461.82 671.29L461.82 678.89M464.29 672.62L459.35 677.57" stroke="#0c0c0c" stroke-width="1.5" fill="none"/>
<path d="M466.97 666.14L474.57 666.14M468.29 663.67L473.24 668.62M470.77 662.34L470.77 669.94M473.24 663.67L468.29 668.62" stroke="#0c0c0c" stroke-width="1.5" fill="none"/>
<path d="M475.91 657.20L483.51 657.20M477.24 654.72L482.18 659.67M479.71 653.40L479.71 661.00M482.18 654.72L477.24 659.67" stroke="#0c0c0c" stroke-width="1.5" fill="none"/>
<path d="M484.86 648.25L492.46 648.25M486.19 645.77L491.13 650.72M488.66 644.45L488.66 652.05M491.13 645.77L486.19 650.72" stroke="#0c0c0c" stroke-width="1.5" fill="none"/>
<path d="M493.81 639.30L501.41 639.30M495.13 636.83L500.08 641.77M497.61 635.50L497.61 643.10M500.08 636.83L495.13 641.77" stroke="#0c0c0c" stroke-width="1.5" fill="none"/>
<path d="M502.75 630.35L510.35 630.35M504.08 627.88L509.03 632.82M506.55 626.55L506.55 634.15M509.03 627.88L504.08 632.82" stroke="#0c0c0c" stroke-width="1.5" fill="none"/>
<path d="M511.70 621.40L519.30 621.40M513.03 618.93L517.97 623.87M515.50 617.60L515.50 625.20M517.97 618.93L513.03 623.87" stroke="#0c0c0c" stroke-width="1.5" fill="none"/>
<circle cx="95.00" cy="1042.00" r="4.3" fill="#06065a"/>
<circle cx="515.50" cy="621.40" r="4.3" fill="#06065a"/>
<text x="66.00" y="625.00" style="font-size:19.39px;fill:#0c0c0c;stroke:#0c0c0c;stroke-width:0.3px;" textLength="7.95" lengthAdjust="spacingAndGlyphs">1</text>
<text x="37.48" y="732.12" style="font-size:20.02px;fill:#0c0c0c;stroke:#0c0c0c;stroke-width:0.3px;" textLength="37.66" lengthAdjust="spacingAndGlyphs">0.75</text>
<text x="46.14" y="835.72" style="font-size:20.02px;fill:#0c0c0c;stroke:#0c0c0c;stroke-width:0.3px;" textLength="28.35" lengthAdjust="spacingAndGlyphs">0.5</text>
<text x="37.48" y="940.41" style="font-size:20.32px;fill:#0c0c0c;stroke:#0c0c0c;stroke-width:0.3px;" textLength="37.66" lengthAdjust="spacingAndGlyphs">0.25</text>
<text x="64.92" y="1066.60" style="font-size:20.75px;fill:#0c0c0c;stroke:#0c0c0c;stroke-width:0.3px;" textLength="11.56" lengthAdjust="spacingAndGlyphs">0</text>
<text x="180.18" y="1066.51" style="font-size:20.61px;fill:#0c0c0c;stroke:#0c0c0c;stroke-width:0.3px;" textLength="37.87" lengthAdjust="spacingAndGlyphs">0.25</text>
<text x="291.14" y="1066.51" style="font-size:20.61px;fill:#0c0c0c;stroke:#0c0c0c;stroke-width:0.3px;" textLength="28.14" lengthAdjust="spacingAndGlyphs">0.5</text>
<text x="394.18" y="1066.51" style="font-size:20.61px;fill:#0c0c0c;stroke:#0c0c0c;stroke-width:0.3px;" textLength="37.66" lengthAdjust="spacingAndGlyphs">0.75</text>
<text x="511.55" y="1066.80" style="font-size:21.21px;fill:#0c0c0c;stroke:#0c0c0c;stroke-width:0.3px;" textLength="7.67" lengthAdjust="spacingAndGlyphs">1</text>
<text x="10.14" y="834.58" style="font-size:23.38px;fill:#0c0c0c;stroke:#0c0c0c;stroke-width:0.15px;font-style:italic;" textLength="15.05" lengthAdjust="spacingAndGlyphs">C</text>
<path d="M106.20 640.75L133.60 640.75" stroke="#0808dc" stroke-width="1.5" fill="none" stroke-linejoin="round" stroke-linecap="butt"/>
<circle cx="120.00" cy="640.75" r="3.4" fill="none" stroke="#0808dc" stroke-width="1.7"/>
<text x="138.92" y="641.25" style="font-size:14.00px;fill:#0808dc;stroke:#0808dc;stroke-width:0.26px;font-style:italic;" textLength="8.17" lengthAdjust="spacingAndGlyphs">C</text>
<text x="150.15" y="642.75" style="font-size:14.00px;fill:#0808dc;stroke:#0808dc;stroke-width:0.1px;" textLength="9.57" lengthAdjust="spacingAndGlyphs">=</text>
<text x="163.25" y="641.25" style="font-size:14.00px;fill:#0808dc;stroke:#0808dc;stroke-width:0.26px;font-style:italic;" textLength="9.03" lengthAdjust="spacingAndGlyphs">C</text>
<text x="172.53" y="647.25" style="font-size:10.50px;fill:#0808dc;stroke:#0808dc;stroke-width:0px;font-style:italic;" textLength="4.34" lengthAdjust="spacingAndGlyphs">i</text>
<text x="173.83" y="636.25" style="font-size:13.00px;fill:#0808dc;stroke:#0808dc;stroke-width:0.26px;" textLength="24.53" lengthAdjust="spacingAndGlyphs">Lind</text>
<text x="203.89" y="641.25" style="font-size:13.00px;fill:#0808dc;stroke:#0808dc;stroke-width:0.26px;" textLength="94.77" lengthAdjust="spacingAndGlyphs">with uniform case</text>
<path d="M106.20 661.50L114.60 661.50" stroke="#0808dc" stroke-width="1.5" fill="none" stroke-linejoin="round" stroke-linecap="butt"/>
<path d="M122.60 661.50L130.10 661.50" stroke="#0808dc" stroke-width="1.5" fill="none" stroke-linejoin="round" stroke-linecap="butt"/>
<rect x="117.40" y="658.90" width="5.2" height="5.2" fill="none" stroke="#0808dc" stroke-width="1.55"/>
<text x="138.92" y="662.50" style="font-size:14.00px;fill:#0808dc;stroke:#0808dc;stroke-width:0.26px;font-style:italic;" textLength="8.17" lengthAdjust="spacingAndGlyphs">C</text>
<text x="150.15" y="664.00" style="font-size:14.00px;fill:#0808dc;stroke:#0808dc;stroke-width:0.1px;" textLength="9.57" lengthAdjust="spacingAndGlyphs">=</text>
<text x="163.25" y="662.50" style="font-size:14.00px;fill:#0808dc;stroke:#0808dc;stroke-width:0.26px;font-style:italic;" textLength="9.03" lengthAdjust="spacingAndGlyphs">C</text>
<text x="172.53" y="668.50" style="font-size:10.50px;fill:#0808dc;stroke:#0808dc;stroke-width:0px;font-style:italic;" textLength="4.34" lengthAdjust="spacingAndGlyphs">i</text>
<text x="173.83" y="658.00" style="font-size:13.00px;fill:#0808dc;stroke:#0808dc;stroke-width:0.26px;" textLength="24.53" lengthAdjust="spacingAndGlyphs">Lind</text>
<text x="203.89" y="662.50" style="font-size:13.00px;fill:#0808dc;stroke:#0808dc;stroke-width:0.26px;" textLength="86.57" lengthAdjust="spacingAndGlyphs">with biased case</text>
<path d="M106.20 681.90L107.46 681.90M109.22 681.90L110.22 681.90M112.23 681.90L113.24 681.90M115.00 681.90L116.01 681.90M118.02 681.90L119.02 681.90M120.78 681.90L121.79 681.90M123.80 681.90L124.81 681.90M126.57 681.90L127.57 681.90M129.58 681.90L130.59 681.90M132.35 681.90L132.60 681.90" stroke="#ea1018" stroke-width="1.5" fill="none" stroke-linejoin="round" stroke-linecap="butt"/>
<path d="M116.20 681.90L123.80 681.90M117.53 679.43L122.47 684.37M120.00 678.10L120.00 685.70M122.47 679.43L117.53 684.37" stroke="#ea1018" stroke-width="1.5" fill="none"/>
<text x="139.32" y="685.00" style="font-size:14.00px;fill:#ea1018;stroke:#ea1018;stroke-width:0.26px;font-style:italic;" textLength="8.17" lengthAdjust="spacingAndGlyphs">C</text>
<text x="150.65" y="686.50" style="font-size:14.00px;fill:#ea1018;stroke:#ea1018;stroke-width:0.1px;" textLength="9.57" lengthAdjust="spacingAndGlyphs">=</text>
<text x="164.20" y="685.00" style="font-size:14.00px;fill:#ea1018;stroke:#ea1018;stroke-width:0.26px;" textLength="8.05" lengthAdjust="spacingAndGlyphs">Γ</text>
<text x="172.33" y="690.20" style="font-size:10.50px;fill:#ea1018;stroke:#ea1018;stroke-width:0px;font-style:italic;" textLength="4.34" lengthAdjust="spacingAndGlyphs">i</text>
<text x="176.75" y="685.00" style="font-size:14.00px;fill:#ea1018;stroke:#ea1018;stroke-width:0.26px;font-style:italic;" textLength="9.03" lengthAdjust="spacingAndGlyphs">C</text>
<text x="186.03" y="691.00" style="font-size:10.50px;fill:#ea1018;stroke:#ea1018;stroke-width:0px;font-style:italic;" textLength="4.34" lengthAdjust="spacingAndGlyphs">i</text>
<text x="185.97" y="678.00" style="font-size:13.00px;fill:#ea1018;stroke:#ea1018;stroke-width:0.26px;" textLength="33.89" lengthAdjust="spacingAndGlyphs">Zhang</text>
<path d="M106.20 702.60L107.46 702.60M109.22 702.60L110.22 702.60M112.23 702.60L113.24 702.60M115.00 702.60L116.01 702.60M118.02 702.60L119.02 702.60M120.78 702.60L121.79 702.60M123.80 702.60L124.81 702.60M126.57 702.60L127.57 702.60M129.58 702.60L130.59 702.60M132.35 702.60L132.60 702.60" stroke="#0c0c0c" stroke-width="1.5" fill="none" stroke-linejoin="round" stroke-linecap="butt"/>
<path d="M116.20 702.60L123.80 702.60M117.53 700.13L122.47 705.07M120.00 698.80L120.00 706.40M122.47 700.13L117.53 705.07" stroke="#0c0c0c" stroke-width="1.5" fill="none"/>
<text x="139.32" y="707.00" style="font-size:14.00px;fill:#0c0c0c;stroke:#0c0c0c;stroke-width:0.26px;font-style:italic;" textLength="8.17" lengthAdjust="spacingAndGlyphs">C</text>
<text x="150.45" y="708.50" style="font-size:14.00px;fill:#0c0c0c;stroke:#0c0c0c;stroke-width:0.1px;" textLength="9.57" lengthAdjust="spacingAndGlyphs">=</text>
<text x="163.05" y="707.00" style="font-size:14.00px;fill:#0c0c0c;stroke:#0c0c0c;stroke-width:0.26px;font-style:italic;" textLength="9.03" lengthAdjust="spacingAndGlyphs">C</text>
<text x="172.33" y="713.00" style="font-size:10.50px;fill:#0c0c0c;stroke:#0c0c0c;stroke-width:0px;font-style:italic;" textLength="4.34" lengthAdjust="spacingAndGlyphs">i</text>
<text x="173.10" y="699.15" style="font-size:13.40px;fill:#0c0c0c;stroke:#0c0c0c;stroke-width:0.26px;" textLength="6.95" lengthAdjust="spacingAndGlyphs">q</text>
<path d="M262 1100.8H352.4" stroke="#0c0c0c" stroke-width="1.05"/>
<text x="287.40" y="1097.20" style="font-size:18.00px;fill:#0c0c0c;stroke:#0c0c0c;stroke-width:0.12px;font-style:italic;" textLength="13.14" lengthAdjust="spacingAndGlyphs">Q</text>
<text x="301.21" y="1098.50" style="font-size:11.63px;fill:#0c0c0c;stroke:#0c0c0c;stroke-width:0px;font-style:italic;" textLength="4.92" lengthAdjust="spacingAndGlyphs">i</text>
<text x="307.12" y="1096.08" style="font-size:18.42px;fill:#0c0c0c;stroke:#0c0c0c;stroke-width:0.12px;" textLength="5.19" lengthAdjust="spacingAndGlyphs">(</text>
<text x="313.05" y="1097.00" style="font-size:17.72px;fill:#0c0c0c;stroke:#0c0c0c;stroke-width:0.12px;font-weight:bold;" textLength="8.71" lengthAdjust="spacingAndGlyphs">I</text>
<text x="322.60" y="1096.08" style="font-size:18.42px;fill:#0c0c0c;stroke:#0c0c0c;stroke-width:0.12px;" textLength="5.19" lengthAdjust="spacingAndGlyphs">)</text>
<text x="261.72" y="1115.20" style="font-size:16.61px;fill:#0c0c0c;stroke:#0c0c0c;stroke-width:0.12px;" textLength="9.98" lengthAdjust="spacingAndGlyphs">2</text>
<text x="273.02" y="1114.09" style="font-size:20.24px;fill:#0c0c0c;stroke:#0c0c0c;stroke-width:0.12px;font-style:italic;" textLength="7.81" lengthAdjust="spacingAndGlyphs">χ</text>
<text x="281.70" y="1117.26" style="font-size:13.28px;fill:#0c0c0c;stroke:#0c0c0c;stroke-width:0.12px;font-style:italic;" textLength="8.82" lengthAdjust="spacingAndGlyphs">α</text>
<text x="291.87" y="1118.10" style="font-size:21.00px;fill:#0c0c0c;stroke:#0c0c0c;stroke-width:0px;" textLength="15.03" lengthAdjust="spacingAndGlyphs">+</text>
<text x="308.45" y="1114.09" style="font-size:20.24px;fill:#0c0c0c;stroke:#0c0c0c;stroke-width:0.12px;font-style:italic;" textLength="7.98" lengthAdjust="spacingAndGlyphs">χ</text>
<text x="318.23" y="1117.44" style="font-size:12.98px;fill:#0c0c0c;stroke:#0c0c0c;stroke-width:0.12px;font-style:italic;" textLength="6.99" lengthAdjust="spacingAndGlyphs">β</text>
<text x="327.44" y="1118.00" style="font-size:21.00px;fill:#0c0c0c;stroke:#0c0c0c;stroke-width:0px;" textLength="15.39" lengthAdjust="spacingAndGlyphs">−</text>
<text x="343.34" y="1115.04" style="font-size:16.37px;fill:#0c0c0c;stroke:#0c0c0c;stroke-width:0.12px;" textLength="8.96" lengthAdjust="spacingAndGlyphs">3</text>
</svg>
</body></html>
